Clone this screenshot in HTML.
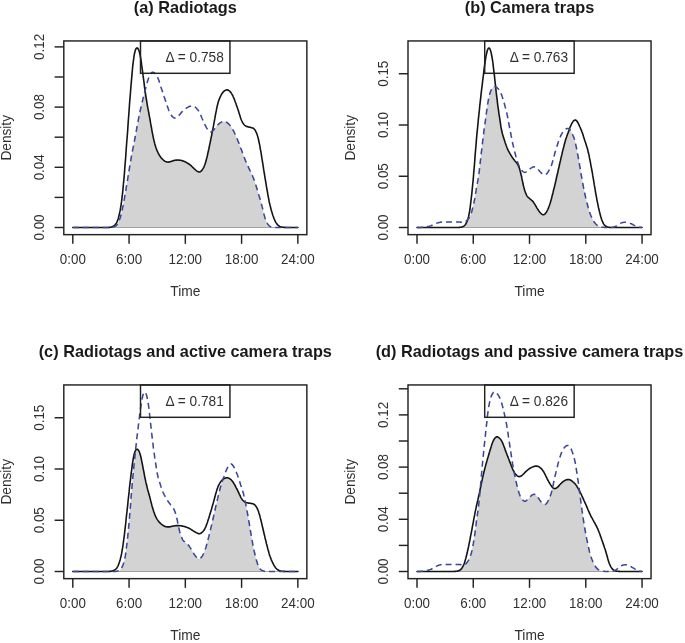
<!DOCTYPE html>
<html><head><meta charset="utf-8"><title>Activity overlap</title>
<style>
html,body{margin:0;padding:0;background:#fff;}
body{width:685px;height:643px;overflow:hidden;}
svg{display:block;}
.t{font-family:"Liberation Sans",sans-serif;font-size:13.4px;fill:#303030;}
.h{font-family:"Liberation Sans",sans-serif;font-size:16.3px;font-weight:bold;fill:#1a1a1a;}
</style></head><body>
<svg width="685" height="643" viewBox="0 0 685 643">
<rect width="685" height="643" fill="#fff"/>
<g><path d="M72.8,227.5 L73.3,227.5 L73.7,227.5 L74.2,227.5 L74.7,227.5 L75.1,227.5 L75.6,227.5 L76.1,227.5 L76.6,227.5 L77.0,227.5 L77.5,227.5 L78.0,227.5 L78.4,227.5 L78.9,227.5 L79.4,227.5 L79.8,227.5 L80.3,227.5 L80.8,227.5 L81.2,227.5 L81.7,227.5 L82.2,227.5 L82.6,227.5 L83.1,227.5 L83.6,227.5 L84.1,227.5 L84.5,227.5 L85.0,227.5 L85.5,227.5 L85.9,227.5 L86.4,227.5 L86.9,227.5 L87.3,227.5 L87.8,227.5 L88.3,227.5 L88.7,227.5 L89.2,227.5 L89.7,227.5 L90.1,227.5 L90.6,227.5 L91.1,227.5 L91.6,227.5 L92.0,227.5 L92.5,227.5 L93.0,227.5 L93.4,227.5 L93.9,227.5 L94.4,227.5 L94.8,227.5 L95.3,227.5 L95.8,227.5 L96.2,227.5 L96.7,227.5 L97.2,227.5 L97.6,227.5 L98.1,227.5 L98.6,227.5 L99.1,227.5 L99.5,227.5 L100.0,227.5 L100.5,227.5 L100.9,227.5 L101.4,227.5 L101.9,227.5 L102.3,227.5 L102.8,227.5 L103.3,227.5 L103.7,227.5 L104.2,227.5 L104.7,227.5 L105.2,227.5 L105.6,227.5 L106.1,227.5 L106.6,227.5 L107.0,227.5 L107.5,227.5 L108.0,227.5 L108.4,227.5 L108.9,227.5 L109.4,227.5 L109.8,227.4 L110.3,227.4 L110.8,227.4 L111.2,227.3 L111.7,227.3 L112.2,227.2 L112.7,227.1 L113.1,227.0 L113.6,226.9 L114.1,226.8 L114.5,226.6 L115.0,226.4 L115.5,226.1 L115.9,225.8 L116.4,225.4 L116.9,224.8 L117.3,224.2 L117.8,223.4 L118.3,222.5 L118.7,221.5 L119.2,220.4 L119.7,219.2 L120.2,217.7 L120.6,216.2 L121.1,214.4 L121.6,212.5 L122.0,210.4 L122.5,208.3 L123.0,206.0 L123.4,203.6 L123.9,201.2 L124.4,198.6 L124.8,196.0 L125.3,193.3 L125.8,190.6 L126.2,187.7 L126.7,184.9 L127.2,182.0 L127.7,179.1 L128.1,176.2 L128.6,173.4 L129.1,170.5 L129.5,167.6 L130.0,164.8 L130.5,162.0 L130.9,159.3 L131.4,156.7 L131.9,154.1 L132.3,151.6 L132.8,149.1 L133.3,146.7 L133.8,144.4 L134.2,142.0 L134.7,139.5 L135.2,137.0 L135.6,134.5 L136.1,131.8 L136.6,129.2 L137.0,126.6 L137.5,124.1 L138.0,121.7 L138.4,119.3 L138.9,116.9 L139.4,114.6 L139.8,112.4 L140.3,110.1 L140.8,108.0 L141.3,105.9 L141.7,103.9 L142.2,102.0 L142.7,100.1 L143.1,98.2 L143.6,96.4 L144.1,94.6 L144.5,92.8 L145.0,91.0 L145.5,93.6 L145.9,96.6 L146.4,99.5 L146.9,102.4 L147.3,105.1 L147.8,107.8 L148.3,110.4 L148.8,112.9 L149.2,115.3 L149.7,117.9 L150.2,120.5 L150.6,123.2 L151.1,125.9 L151.6,128.5 L152.0,131.1 L152.5,133.6 L153.0,135.9 L153.4,138.1 L153.9,140.2 L154.4,142.1 L154.8,143.9 L155.3,145.6 L155.8,147.2 L156.3,148.5 L156.7,149.8 L157.2,150.9 L157.7,152.0 L158.1,152.9 L158.6,153.8 L159.1,154.7 L159.5,155.5 L160.0,156.2 L160.5,156.9 L160.9,157.5 L161.4,158.1 L161.9,158.6 L162.4,159.1 L162.8,159.6 L163.3,160.0 L163.8,160.4 L164.2,160.8 L164.7,161.1 L165.2,161.4 L165.6,161.6 L166.1,161.8 L166.6,161.9 L167.0,162.0 L167.5,162.0 L168.0,162.1 L168.4,162.1 L168.9,162.0 L169.4,161.9 L169.9,161.8 L170.3,161.7 L170.8,161.5 L171.3,161.4 L171.7,161.2 L172.2,161.1 L172.7,160.9 L173.1,160.8 L173.6,160.6 L174.1,160.5 L174.5,160.4 L175.0,160.3 L175.5,160.2 L175.9,160.1 L176.4,160.1 L176.9,160.1 L177.4,160.0 L177.8,160.0 L178.3,160.0 L178.8,160.1 L179.2,160.1 L179.7,160.2 L180.2,160.3 L180.6,160.3 L181.1,160.4 L181.6,160.5 L182.0,160.7 L182.5,160.8 L183.0,161.0 L183.4,161.1 L183.9,161.3 L184.4,161.5 L184.9,161.7 L185.3,161.9 L185.8,162.1 L186.3,162.4 L186.7,162.7 L187.2,162.9 L187.7,163.2 L188.1,163.5 L188.6,163.8 L189.1,164.1 L189.5,164.5 L190.0,164.8 L190.5,165.2 L191.0,165.6 L191.4,166.1 L191.9,166.5 L192.4,167.0 L192.8,167.4 L193.3,167.9 L193.8,168.3 L194.2,168.8 L194.7,169.2 L195.2,169.6 L195.6,170.0 L196.1,170.4 L196.6,170.8 L197.0,171.1 L197.5,171.4 L198.0,171.6 L198.5,171.8 L198.9,172.0 L199.4,172.0 L199.9,171.9 L200.3,171.7 L200.8,171.4 L201.3,170.9 L201.7,170.4 L202.2,169.8 L202.7,169.1 L203.1,168.4 L203.6,167.6 L204.1,166.6 L204.5,165.5 L205.0,164.2 L205.5,162.7 L206.0,161.1 L206.4,159.3 L206.9,157.5 L207.4,155.5 L207.8,153.4 L208.3,151.3 L208.8,149.2 L209.2,147.0 L209.7,144.7 L210.2,142.5 L210.6,140.2 L211.1,137.9 L211.6,135.5 L212.0,133.1 L212.5,131.0 L213.0,130.6 L213.5,130.2 L213.9,129.6 L214.4,129.0 L214.9,128.4 L215.3,127.8 L215.8,127.2 L216.3,126.6 L216.7,126.0 L217.2,125.5 L217.7,125.0 L218.1,124.5 L218.6,124.1 L219.1,123.6 L219.6,123.3 L220.0,122.9 L220.5,122.6 L221.0,122.3 L221.4,122.0 L221.9,121.8 L222.4,121.7 L222.8,121.6 L223.3,121.5 L223.8,121.4 L224.2,121.4 L224.7,121.5 L225.2,121.6 L225.6,121.8 L226.1,122.0 L226.6,122.3 L227.1,122.6 L227.5,123.0 L228.0,123.3 L228.5,123.8 L228.9,124.2 L229.4,124.7 L229.9,125.2 L230.3,125.7 L230.8,126.3 L231.3,126.9 L231.7,127.6 L232.2,128.4 L232.7,129.2 L233.1,130.1 L233.6,131.0 L234.1,132.0 L234.6,133.0 L235.0,134.0 L235.5,135.0 L236.0,136.1 L236.4,137.1 L236.9,138.3 L237.4,139.4 L237.8,140.6 L238.3,141.7 L238.8,142.9 L239.2,144.1 L239.7,145.3 L240.2,146.6 L240.6,147.8 L241.1,149.0 L241.6,150.2 L242.1,151.5 L242.5,152.8 L243.0,154.0 L243.5,155.3 L243.9,156.6 L244.4,157.8 L244.9,159.1 L245.3,160.3 L245.8,161.4 L246.3,162.5 L246.7,163.6 L247.2,164.6 L247.7,165.6 L248.2,166.6 L248.6,167.6 L249.1,168.6 L249.6,169.6 L250.0,170.5 L250.5,171.5 L251.0,172.5 L251.4,173.5 L251.9,174.5 L252.4,175.5 L252.8,176.6 L253.3,177.8 L253.8,179.0 L254.2,180.3 L254.7,181.6 L255.2,183.1 L255.7,184.5 L256.1,186.1 L256.6,187.6 L257.1,189.2 L257.5,190.7 L258.0,192.2 L258.5,193.7 L258.9,195.3 L259.4,196.8 L259.9,198.4 L260.3,200.0 L260.8,201.7 L261.3,203.4 L261.7,205.1 L262.2,206.9 L262.7,208.9 L263.2,210.9 L263.6,212.8 L264.1,214.7 L264.6,216.4 L265.0,217.9 L265.5,219.3 L266.0,220.5 L266.4,221.6 L266.9,222.5 L267.4,223.4 L267.8,224.1 L268.3,224.8 L268.8,225.3 L269.2,225.8 L269.7,226.1 L270.2,226.4 L270.7,226.6 L271.1,226.8 L271.6,226.9 L272.1,227.0 L272.5,227.1 L273.0,227.2 L273.5,227.3 L273.9,227.3 L274.4,227.4 L274.9,227.4 L275.3,227.4 L275.8,227.5 L276.3,227.5 L276.8,227.5 L277.2,227.5 L277.7,227.5 L278.2,227.5 L278.6,227.5 L279.1,227.5 L279.6,227.5 L280.0,227.5 L280.5,227.5 L281.0,227.5 L281.4,227.5 L281.9,227.5 L282.4,227.5 L282.8,227.5 L283.3,227.5 L283.8,227.5 L284.3,227.5 L284.7,227.5 L285.2,227.5 L285.7,227.5 L286.1,227.5 L286.6,227.5 L287.1,227.5 L287.5,227.5 L288.0,227.5 L288.5,227.5 L288.9,227.5 L289.4,227.5 L289.9,227.5 L290.3,227.5 L290.8,227.5 L291.3,227.5 L291.8,227.5 L292.2,227.5 L292.7,227.5 L293.2,227.5 L293.6,227.5 L294.1,227.5 L294.6,227.5 L295.0,227.5 L295.5,227.5 L296.0,227.5 L296.4,227.5 L296.9,227.5 L297.4,227.5 L297.9,227.5 L297.85,227.50 L72.80,227.50 Z" fill="#d3d3d3" stroke="none"/>
<line x1="72.80" y1="227.50" x2="297.85" y2="227.50" stroke="#707070" stroke-width="0.6"/>
<path d="M72.8,227.5 L73.3,227.5 L73.7,227.5 L74.2,227.5 L74.7,227.5 L75.1,227.5 L75.6,227.5 L76.1,227.5 L76.6,227.5 L77.0,227.5 L77.5,227.5 L78.0,227.5 L78.4,227.5 L78.9,227.5 L79.4,227.5 L79.8,227.5 L80.3,227.5 L80.8,227.5 L81.2,227.5 L81.7,227.5 L82.2,227.5 L82.6,227.5 L83.1,227.5 L83.6,227.5 L84.1,227.5 L84.5,227.5 L85.0,227.5 L85.5,227.5 L85.9,227.5 L86.4,227.5 L86.9,227.5 L87.3,227.5 L87.8,227.5 L88.3,227.5 L88.7,227.5 L89.2,227.5 L89.7,227.5 L90.1,227.5 L90.6,227.5 L91.1,227.5 L91.6,227.5 L92.0,227.5 L92.5,227.5 L93.0,227.5 L93.4,227.5 L93.9,227.5 L94.4,227.5 L94.8,227.5 L95.3,227.5 L95.8,227.5 L96.2,227.5 L96.7,227.5 L97.2,227.5 L97.6,227.5 L98.1,227.5 L98.6,227.5 L99.1,227.5 L99.5,227.5 L100.0,227.5 L100.5,227.5 L100.9,227.5 L101.4,227.5 L101.9,227.5 L102.3,227.5 L102.8,227.5 L103.3,227.5 L103.7,227.5 L104.2,227.5 L104.7,227.5 L105.2,227.5 L105.6,227.5 L106.1,227.5 L106.6,227.5 L107.0,227.5 L107.5,227.5 L108.0,227.5 L108.4,227.5 L108.9,227.4 L109.4,227.4 L109.8,227.4 L110.3,227.3 L110.8,227.2 L111.2,227.1 L111.7,226.9 L112.2,226.7 L112.7,226.5 L113.1,226.3 L113.6,226.0 L114.1,225.6 L114.5,225.3 L115.0,224.9 L115.5,224.4 L115.9,223.8 L116.4,223.1 L116.9,222.2 L117.3,221.2 L117.8,219.9 L118.3,218.4 L118.7,216.7 L119.2,214.7 L119.7,212.6 L120.2,210.2 L120.6,207.6 L121.1,204.7 L121.6,201.4 L122.0,197.7 L122.5,193.6 L123.0,189.1 L123.4,184.3 L123.9,179.1 L124.4,173.7 L124.8,167.9 L125.3,161.9 L125.8,155.6 L126.2,149.2 L126.7,142.8 L127.2,136.5 L127.7,130.1 L128.1,123.6 L128.6,117.0 L129.1,110.6 L129.5,104.2 L130.0,98.1 L130.5,92.3 L130.9,86.6 L131.4,81.1 L131.9,75.6 L132.3,70.5 L132.8,65.7 L133.3,61.5 L133.8,58.0 L134.2,55.0 L134.7,52.7 L135.2,50.9 L135.6,49.5 L136.1,48.6 L136.6,48.1 L137.0,47.9 L137.5,48.1 L138.0,48.6 L138.4,49.4 L138.9,50.5 L139.4,52.0 L139.8,53.8 L140.3,56.1 L140.8,58.9 L141.3,62.0 L141.7,65.4 L142.2,68.9 L142.7,72.4 L143.1,75.9 L143.6,79.5 L144.1,83.1 L144.5,86.8 L145.0,90.3 L145.5,93.6 L145.9,96.6 L146.4,99.5 L146.9,102.4 L147.3,105.1 L147.8,107.8 L148.3,110.4 L148.8,112.9 L149.2,115.3 L149.7,117.9 L150.2,120.5 L150.6,123.2 L151.1,125.9 L151.6,128.5 L152.0,131.1 L152.5,133.6 L153.0,135.9 L153.4,138.1 L153.9,140.2 L154.4,142.1 L154.8,143.9 L155.3,145.6 L155.8,147.2 L156.3,148.5 L156.7,149.8 L157.2,150.9 L157.7,152.0 L158.1,152.9 L158.6,153.8 L159.1,154.7 L159.5,155.5 L160.0,156.2 L160.5,156.9 L160.9,157.5 L161.4,158.1 L161.9,158.6 L162.4,159.1 L162.8,159.6 L163.3,160.0 L163.8,160.4 L164.2,160.8 L164.7,161.1 L165.2,161.4 L165.6,161.6 L166.1,161.8 L166.6,161.9 L167.0,162.0 L167.5,162.0 L168.0,162.1 L168.4,162.1 L168.9,162.0 L169.4,161.9 L169.9,161.8 L170.3,161.7 L170.8,161.5 L171.3,161.4 L171.7,161.2 L172.2,161.1 L172.7,160.9 L173.1,160.8 L173.6,160.6 L174.1,160.5 L174.5,160.4 L175.0,160.3 L175.5,160.2 L175.9,160.1 L176.4,160.1 L176.9,160.1 L177.4,160.0 L177.8,160.0 L178.3,160.0 L178.8,160.1 L179.2,160.1 L179.7,160.2 L180.2,160.3 L180.6,160.3 L181.1,160.4 L181.6,160.5 L182.0,160.7 L182.5,160.8 L183.0,161.0 L183.4,161.1 L183.9,161.3 L184.4,161.5 L184.9,161.7 L185.3,161.9 L185.8,162.1 L186.3,162.4 L186.7,162.7 L187.2,162.9 L187.7,163.2 L188.1,163.5 L188.6,163.8 L189.1,164.1 L189.5,164.5 L190.0,164.8 L190.5,165.2 L191.0,165.6 L191.4,166.1 L191.9,166.5 L192.4,167.0 L192.8,167.4 L193.3,167.9 L193.8,168.3 L194.2,168.8 L194.7,169.2 L195.2,169.6 L195.6,170.0 L196.1,170.4 L196.6,170.8 L197.0,171.1 L197.5,171.4 L198.0,171.6 L198.5,171.8 L198.9,172.0 L199.4,172.0 L199.9,171.9 L200.3,171.7 L200.8,171.4 L201.3,170.9 L201.7,170.4 L202.2,169.8 L202.7,169.1 L203.1,168.4 L203.6,167.6 L204.1,166.6 L204.5,165.5 L205.0,164.2 L205.5,162.7 L206.0,161.1 L206.4,159.3 L206.9,157.5 L207.4,155.5 L207.8,153.4 L208.3,151.3 L208.8,149.2 L209.2,147.0 L209.7,144.7 L210.2,142.5 L210.6,140.2 L211.1,137.9 L211.6,135.5 L212.0,133.1 L212.5,130.7 L213.0,128.3 L213.5,125.9 L213.9,123.4 L214.4,120.8 L214.9,118.2 L215.3,115.7 L215.8,113.1 L216.3,110.7 L216.7,108.4 L217.2,106.2 L217.7,104.3 L218.1,102.5 L218.6,101.0 L219.1,99.6 L219.6,98.4 L220.0,97.3 L220.5,96.3 L221.0,95.4 L221.4,94.5 L221.9,93.7 L222.4,93.1 L222.8,92.4 L223.3,91.9 L223.8,91.4 L224.2,91.0 L224.7,90.7 L225.2,90.4 L225.6,90.2 L226.1,90.0 L226.6,89.9 L227.1,89.9 L227.5,90.0 L228.0,90.1 L228.5,90.3 L228.9,90.6 L229.4,91.0 L229.9,91.4 L230.3,91.9 L230.8,92.4 L231.3,93.1 L231.7,93.8 L232.2,94.6 L232.7,95.5 L233.1,96.5 L233.6,97.6 L234.1,98.7 L234.6,100.0 L235.0,101.2 L235.5,102.5 L236.0,103.8 L236.4,105.1 L236.9,106.4 L237.4,107.8 L237.8,109.1 L238.3,110.6 L238.8,112.1 L239.2,113.6 L239.7,115.1 L240.2,116.6 L240.6,118.0 L241.1,119.3 L241.6,120.5 L242.1,121.5 L242.5,122.4 L243.0,123.2 L243.5,123.9 L243.9,124.5 L244.4,125.0 L244.9,125.4 L245.3,125.7 L245.8,126.0 L246.3,126.3 L246.7,126.5 L247.2,126.6 L247.7,126.8 L248.2,126.9 L248.6,127.0 L249.1,127.1 L249.6,127.2 L250.0,127.3 L250.5,127.4 L251.0,127.5 L251.4,127.6 L251.9,127.7 L252.4,127.9 L252.8,128.1 L253.3,128.3 L253.8,128.6 L254.2,129.1 L254.7,129.6 L255.2,130.3 L255.7,131.1 L256.1,132.1 L256.6,133.2 L257.1,134.5 L257.5,135.9 L258.0,137.6 L258.5,139.5 L258.9,141.5 L259.4,143.8 L259.9,146.2 L260.3,148.8 L260.8,151.4 L261.3,154.2 L261.7,157.1 L262.2,160.1 L262.7,163.1 L263.2,166.2 L263.6,169.2 L264.1,172.1 L264.6,175.0 L265.0,177.8 L265.5,180.7 L266.0,183.5 L266.4,186.3 L266.9,189.0 L267.4,191.7 L267.8,194.3 L268.3,196.9 L268.8,199.3 L269.2,201.7 L269.7,203.9 L270.2,205.9 L270.7,207.8 L271.1,209.5 L271.6,211.2 L272.1,212.7 L272.5,214.2 L273.0,215.7 L273.5,217.0 L273.9,218.3 L274.4,219.4 L274.9,220.5 L275.3,221.5 L275.8,222.3 L276.3,223.1 L276.8,223.8 L277.2,224.4 L277.7,224.9 L278.2,225.3 L278.6,225.7 L279.1,226.0 L279.6,226.3 L280.0,226.5 L280.5,226.7 L281.0,226.9 L281.4,227.0 L281.9,227.1 L282.4,227.2 L282.8,227.3 L283.3,227.3 L283.8,227.4 L284.3,227.4 L284.7,227.4 L285.2,227.4 L285.7,227.5 L286.1,227.5 L286.6,227.5 L287.1,227.5 L287.5,227.5 L288.0,227.5 L288.5,227.5 L288.9,227.5 L289.4,227.5 L289.9,227.5 L290.3,227.5 L290.8,227.5 L291.3,227.5 L291.8,227.5 L292.2,227.5 L292.7,227.5 L293.2,227.5 L293.6,227.5 L294.1,227.5 L294.6,227.5 L295.0,227.5 L295.5,227.5 L296.0,227.5 L296.4,227.5 L296.9,227.5 L297.4,227.5 L297.9,227.5" fill="none" stroke="#141414" stroke-width="1.6" stroke-linejoin="round" stroke-linecap="round"/>
<path d="M72.8,227.5 L73.3,227.5 L73.7,227.5 L74.2,227.5 L74.7,227.5 L75.1,227.5 L75.6,227.5 L76.1,227.5 L76.6,227.5 L77.0,227.5 L77.5,227.5 L78.0,227.5 L78.4,227.5 L78.9,227.5 L79.4,227.5 L79.8,227.5 L80.3,227.5 L80.8,227.5 L81.2,227.5 L81.7,227.5 L82.2,227.5 L82.6,227.5 L83.1,227.5 L83.6,227.5 L84.1,227.5 L84.5,227.5 L85.0,227.5 L85.5,227.5 L85.9,227.5 L86.4,227.5 L86.9,227.5 L87.3,227.5 L87.8,227.5 L88.3,227.5 L88.7,227.5 L89.2,227.5 L89.7,227.5 L90.1,227.5 L90.6,227.5 L91.1,227.5 L91.6,227.5 L92.0,227.5 L92.5,227.5 L93.0,227.5 L93.4,227.5 L93.9,227.5 L94.4,227.5 L94.8,227.5 L95.3,227.5 L95.8,227.5 L96.2,227.5 L96.7,227.5 L97.2,227.5 L97.6,227.5 L98.1,227.5 L98.6,227.5 L99.1,227.5 L99.5,227.5 L100.0,227.5 L100.5,227.5 L100.9,227.5 L101.4,227.5 L101.9,227.5 L102.3,227.5 L102.8,227.5 L103.3,227.5 L103.7,227.5 L104.2,227.5 L104.7,227.5 L105.2,227.5 L105.6,227.5 L106.1,227.5 L106.6,227.5 L107.0,227.5 L107.5,227.5 L108.0,227.5 L108.4,227.5 L108.9,227.5 L109.4,227.5 L109.8,227.4 L110.3,227.4 L110.8,227.4 L111.2,227.3 L111.7,227.3 L112.2,227.2 L112.7,227.1 L113.1,227.0 L113.6,226.9 L114.1,226.8 L114.5,226.6 L115.0,226.4 L115.5,226.1 L115.9,225.8 L116.4,225.4 L116.9,224.8 L117.3,224.2 L117.8,223.4 L118.3,222.5 L118.7,221.5 L119.2,220.4 L119.7,219.2 L120.2,217.7 L120.6,216.2 L121.1,214.4 L121.6,212.5 L122.0,210.4 L122.5,208.3 L123.0,206.0 L123.4,203.6 L123.9,201.2 L124.4,198.6 L124.8,196.0 L125.3,193.3 L125.8,190.6 L126.2,187.7 L126.7,184.9 L127.2,182.0 L127.7,179.1 L128.1,176.2 L128.6,173.4 L129.1,170.5 L129.5,167.6 L130.0,164.8 L130.5,162.0 L130.9,159.3 L131.4,156.7 L131.9,154.1 L132.3,151.6 L132.8,149.1 L133.3,146.7 L133.8,144.4 L134.2,142.0 L134.7,139.5 L135.2,137.0 L135.6,134.5 L136.1,131.8 L136.6,129.2 L137.0,126.6 L137.5,124.1 L138.0,121.7 L138.4,119.3 L138.9,116.9 L139.4,114.6 L139.8,112.4 L140.3,110.1 L140.8,108.0 L141.3,105.9 L141.7,103.9 L142.2,102.0 L142.7,100.1 L143.1,98.2 L143.6,96.4 L144.1,94.6 L144.5,92.8 L145.0,91.0 L145.5,89.2 L145.9,87.4 L146.4,85.6 L146.9,83.8 L147.3,82.1 L147.8,80.5 L148.3,79.0 L148.8,77.6 L149.2,76.4 L149.7,75.4 L150.2,74.5 L150.6,73.8 L151.1,73.2 L151.6,72.7 L152.0,72.4 L152.5,72.2 L153.0,72.2 L153.4,72.3 L153.9,72.6 L154.4,72.9 L154.8,73.3 L155.3,73.8 L155.8,74.3 L156.3,74.9 L156.7,75.6 L157.2,76.5 L157.7,77.5 L158.1,78.5 L158.6,79.7 L159.1,81.0 L159.5,82.4 L160.0,83.9 L160.5,85.4 L160.9,86.9 L161.4,88.4 L161.9,89.9 L162.4,91.3 L162.8,92.7 L163.3,94.1 L163.8,95.5 L164.2,96.9 L164.7,98.3 L165.2,99.7 L165.6,101.1 L166.1,102.5 L166.6,103.9 L167.0,105.3 L167.5,106.7 L168.0,108.1 L168.4,109.3 L168.9,110.5 L169.4,111.6 L169.9,112.6 L170.3,113.5 L170.8,114.4 L171.3,115.1 L171.7,115.8 L172.2,116.4 L172.7,116.9 L173.1,117.3 L173.6,117.6 L174.1,117.9 L174.5,118.0 L175.0,118.0 L175.5,118.0 L175.9,117.9 L176.4,117.7 L176.9,117.4 L177.4,117.1 L177.8,116.6 L178.3,116.1 L178.8,115.6 L179.2,115.1 L179.7,114.6 L180.2,114.0 L180.6,113.4 L181.1,112.9 L181.6,112.4 L182.0,111.8 L182.5,111.4 L183.0,110.9 L183.4,110.5 L183.9,110.0 L184.4,109.6 L184.9,109.2 L185.3,108.9 L185.8,108.5 L186.3,108.2 L186.7,107.9 L187.2,107.6 L187.7,107.3 L188.1,107.0 L188.6,106.8 L189.1,106.6 L189.5,106.5 L190.0,106.3 L190.5,106.2 L191.0,106.1 L191.4,106.0 L191.9,105.9 L192.4,105.9 L192.8,105.9 L193.3,106.1 L193.8,106.2 L194.2,106.5 L194.7,106.8 L195.2,107.1 L195.6,107.5 L196.1,107.9 L196.6,108.3 L197.0,108.9 L197.5,109.5 L198.0,110.1 L198.5,110.8 L198.9,111.6 L199.4,112.4 L199.9,113.4 L200.3,114.3 L200.8,115.4 L201.3,116.4 L201.7,117.5 L202.2,118.7 L202.7,119.8 L203.1,120.9 L203.6,122.0 L204.1,123.0 L204.5,124.0 L205.0,124.9 L205.5,125.8 L206.0,126.7 L206.4,127.6 L206.9,128.4 L207.4,129.2 L207.8,129.9 L208.3,130.5 L208.8,130.9 L209.2,131.3 L209.7,131.6 L210.2,131.8 L210.6,131.9 L211.1,131.8 L211.6,131.7 L212.0,131.4 L212.5,131.0 L213.0,130.6 L213.5,130.2 L213.9,129.6 L214.4,129.0 L214.9,128.4 L215.3,127.8 L215.8,127.2 L216.3,126.6 L216.7,126.0 L217.2,125.5 L217.7,125.0 L218.1,124.5 L218.6,124.1 L219.1,123.6 L219.6,123.3 L220.0,122.9 L220.5,122.6 L221.0,122.3 L221.4,122.0 L221.9,121.8 L222.4,121.7 L222.8,121.6 L223.3,121.5 L223.8,121.4 L224.2,121.4 L224.7,121.5 L225.2,121.6 L225.6,121.8 L226.1,122.0 L226.6,122.3 L227.1,122.6 L227.5,123.0 L228.0,123.3 L228.5,123.8 L228.9,124.2 L229.4,124.7 L229.9,125.2 L230.3,125.7 L230.8,126.3 L231.3,126.9 L231.7,127.6 L232.2,128.4 L232.7,129.2 L233.1,130.1 L233.6,131.0 L234.1,132.0 L234.6,133.0 L235.0,134.0 L235.5,135.0 L236.0,136.1 L236.4,137.1 L236.9,138.3 L237.4,139.4 L237.8,140.6 L238.3,141.7 L238.8,142.9 L239.2,144.1 L239.7,145.3 L240.2,146.6 L240.6,147.8 L241.1,149.0 L241.6,150.2 L242.1,151.5 L242.5,152.8 L243.0,154.0 L243.5,155.3 L243.9,156.6 L244.4,157.8 L244.9,159.1 L245.3,160.3 L245.8,161.4 L246.3,162.5 L246.7,163.6 L247.2,164.6 L247.7,165.6 L248.2,166.6 L248.6,167.6 L249.1,168.6 L249.6,169.6 L250.0,170.5 L250.5,171.5 L251.0,172.5 L251.4,173.5 L251.9,174.5 L252.4,175.5 L252.8,176.6 L253.3,177.8 L253.8,179.0 L254.2,180.3 L254.7,181.6 L255.2,183.1 L255.7,184.5 L256.1,186.1 L256.6,187.6 L257.1,189.2 L257.5,190.7 L258.0,192.2 L258.5,193.7 L258.9,195.3 L259.4,196.8 L259.9,198.4 L260.3,200.0 L260.8,201.7 L261.3,203.4 L261.7,205.1 L262.2,206.9 L262.7,208.9 L263.2,210.9 L263.6,212.8 L264.1,214.7 L264.6,216.4 L265.0,217.9 L265.5,219.3 L266.0,220.5 L266.4,221.6 L266.9,222.5 L267.4,223.4 L267.8,224.1 L268.3,224.8 L268.8,225.3 L269.2,225.8 L269.7,226.1 L270.2,226.4 L270.7,226.6 L271.1,226.8 L271.6,226.9 L272.1,227.0 L272.5,227.1 L273.0,227.2 L273.5,227.3 L273.9,227.3 L274.4,227.4 L274.9,227.4 L275.3,227.4 L275.8,227.5 L276.3,227.5 L276.8,227.5 L277.2,227.5 L277.7,227.5 L278.2,227.5 L278.6,227.5 L279.1,227.5 L279.6,227.5 L280.0,227.5 L280.5,227.5 L281.0,227.5 L281.4,227.5 L281.9,227.5 L282.4,227.5 L282.8,227.5 L283.3,227.5 L283.8,227.5 L284.3,227.5 L284.7,227.5 L285.2,227.5 L285.7,227.5 L286.1,227.5 L286.6,227.5 L287.1,227.5 L287.5,227.5 L288.0,227.5 L288.5,227.5 L288.9,227.5 L289.4,227.5 L289.9,227.5 L290.3,227.5 L290.8,227.5 L291.3,227.5 L291.8,227.5 L292.2,227.5 L292.7,227.5 L293.2,227.5 L293.6,227.5 L294.1,227.5 L294.6,227.5 L295.0,227.5 L295.5,227.5 L296.0,227.5 L296.4,227.5 L296.9,227.5 L297.4,227.5 L297.9,227.5" fill="none" stroke="#3b4699" stroke-width="1.55" stroke-dasharray="6 4" stroke-linejoin="round" stroke-linecap="butt"/>
<rect x="63.80" y="40.95" width="243.05" height="193.70" fill="none" stroke="#222222" stroke-width="1.45"/>
<line x1="72.80" y1="234.65" x2="72.80" y2="243.85" stroke="#222222" stroke-width="1.45"/>
<text transform="translate(72.80,264.20) scale(1,1.07)" text-anchor="middle" class="t">0:00</text>
<line x1="129.06" y1="234.65" x2="129.06" y2="243.85" stroke="#222222" stroke-width="1.45"/>
<text transform="translate(129.06,264.20) scale(1,1.07)" text-anchor="middle" class="t">6:00</text>
<line x1="185.32" y1="234.65" x2="185.32" y2="243.85" stroke="#222222" stroke-width="1.45"/>
<text transform="translate(185.32,264.20) scale(1,1.07)" text-anchor="middle" class="t">12:00</text>
<line x1="241.59" y1="234.65" x2="241.59" y2="243.85" stroke="#222222" stroke-width="1.45"/>
<text transform="translate(241.59,264.20) scale(1,1.07)" text-anchor="middle" class="t">18:00</text>
<line x1="297.85" y1="234.65" x2="297.85" y2="243.85" stroke="#222222" stroke-width="1.45"/>
<text transform="translate(297.85,264.20) scale(1,1.07)" text-anchor="middle" class="t">24:00</text>
<line x1="54.60" y1="227.50" x2="63.80" y2="227.50" stroke="#222222" stroke-width="1.45"/>
<line x1="54.60" y1="167.30" x2="63.80" y2="167.30" stroke="#222222" stroke-width="1.45"/>
<line x1="54.60" y1="107.10" x2="63.80" y2="107.10" stroke="#222222" stroke-width="1.45"/>
<line x1="54.60" y1="46.90" x2="63.80" y2="46.90" stroke="#222222" stroke-width="1.45"/>
<line x1="54.60" y1="197.40" x2="63.80" y2="197.40" stroke="#222222" stroke-width="1.45"/>
<line x1="54.60" y1="137.20" x2="63.80" y2="137.20" stroke="#222222" stroke-width="1.45"/>
<line x1="54.60" y1="77.00" x2="63.80" y2="77.00" stroke="#222222" stroke-width="1.45"/>
<text transform="translate(44.20,227.50) rotate(-90) scale(1,1.07)" text-anchor="middle" class="t">0.00</text>
<text transform="translate(44.20,167.30) rotate(-90) scale(1,1.07)" text-anchor="middle" class="t">0.04</text>
<text transform="translate(44.20,107.10) rotate(-90) scale(1,1.07)" text-anchor="middle" class="t">0.08</text>
<text transform="translate(44.20,46.90) rotate(-90) scale(1,1.07)" text-anchor="middle" class="t">0.12</text>
<text transform="translate(185.30,296.30) scale(1,1.07)" text-anchor="middle" class="t" style="font-size:13.8px">Time</text>
<text transform="translate(10.90,137.80) rotate(-90) scale(1,1.07)" text-anchor="middle" class="t" style="font-size:13.7px">Density</text>
<text x="185.30" y="13.30" text-anchor="middle" class="h">(a) Radiotags</text>
<rect x="140.50" y="40.95" width="89.45" height="32.35" fill="none" stroke="#222222" stroke-width="1.45"/>
<text transform="translate(165.60,62.30) scale(1,1.07)" class="t" style="font-size:13.7px">Δ = 0.758</text></g>
<g><path d="M417.0,227.5 L417.5,227.5 L417.9,227.5 L418.4,227.5 L418.9,227.5 L419.3,227.5 L419.8,227.5 L420.3,227.5 L420.8,227.5 L421.2,227.5 L421.7,227.5 L422.2,227.5 L422.6,227.5 L423.1,227.5 L423.6,227.5 L424.0,227.5 L424.5,227.5 L425.0,227.5 L425.4,227.5 L425.9,227.5 L426.4,227.5 L426.8,227.5 L427.3,227.5 L427.8,227.5 L428.3,227.5 L428.7,227.5 L429.2,227.5 L429.7,227.5 L430.1,227.5 L430.6,227.5 L431.1,227.5 L431.5,227.5 L432.0,227.5 L432.5,227.5 L432.9,227.5 L433.4,227.5 L433.9,227.5 L434.3,227.5 L434.8,227.5 L435.3,227.5 L435.8,227.5 L436.2,227.5 L436.7,227.5 L437.2,227.5 L437.6,227.5 L438.1,227.5 L438.6,227.5 L439.0,227.5 L439.5,227.5 L440.0,227.5 L440.4,227.5 L440.9,227.5 L441.4,227.5 L441.8,227.5 L442.3,227.5 L442.8,227.5 L443.3,227.5 L443.7,227.5 L444.2,227.5 L444.7,227.5 L445.1,227.5 L445.6,227.5 L446.1,227.5 L446.5,227.5 L447.0,227.5 L447.5,227.5 L447.9,227.5 L448.4,227.5 L448.9,227.5 L449.4,227.5 L449.8,227.5 L450.3,227.5 L450.8,227.5 L451.2,227.5 L451.7,227.5 L452.2,227.5 L452.6,227.5 L453.1,227.5 L453.6,227.5 L454.0,227.5 L454.5,227.5 L455.0,227.5 L455.4,227.5 L455.9,227.5 L456.4,227.5 L456.9,227.5 L457.3,227.5 L457.8,227.5 L458.3,227.5 L458.7,227.5 L459.2,227.4 L459.7,227.4 L460.1,227.3 L460.6,227.3 L461.1,227.2 L461.5,227.1 L462.0,227.0 L462.5,226.8 L462.9,226.6 L463.4,226.4 L463.9,226.1 L464.4,225.7 L464.8,225.3 L465.3,224.7 L465.8,224.0 L466.2,223.2 L466.7,222.2 L467.2,221.1 L467.6,219.8 L468.1,219.2 L468.6,218.6 L469.0,218.0 L469.5,217.2 L470.0,216.4 L470.4,215.4 L470.9,214.2 L471.4,212.8 L471.9,211.2 L472.3,209.4 L472.8,207.6 L473.3,205.7 L473.7,203.6 L474.2,201.3 L474.7,198.9 L475.1,196.2 L475.6,193.3 L476.1,190.4 L476.5,187.5 L477.0,184.8 L477.5,182.3 L478.0,179.7 L478.4,176.8 L478.9,173.5 L479.4,169.9 L479.8,165.9 L480.3,161.9 L480.8,157.7 L481.2,153.6 L481.7,149.6 L482.2,145.6 L482.6,141.6 L483.1,137.8 L483.6,134.0 L484.0,130.4 L484.5,126.8 L485.0,123.3 L485.5,119.8 L485.9,116.3 L486.4,112.9 L486.9,109.5 L487.3,106.3 L487.8,103.2 L488.3,100.5 L488.7,98.2 L489.2,96.1 L489.7,94.3 L490.1,92.8 L490.6,91.4 L491.1,90.3 L491.5,89.4 L492.0,88.6 L492.5,87.9 L493.0,87.3 L493.4,86.8 L493.9,86.5 L494.4,86.4 L494.8,86.4 L495.3,86.5 L495.8,88.0 L496.2,92.2 L496.7,96.3 L497.2,100.2 L497.6,104.0 L498.1,107.5 L498.6,110.8 L499.0,113.9 L499.5,117.1 L500.0,120.4 L500.5,123.7 L500.9,126.7 L501.4,129.3 L501.9,131.5 L502.3,133.4 L502.8,135.1 L503.3,136.7 L503.7,138.1 L504.2,139.6 L504.7,141.0 L505.1,142.4 L505.6,143.8 L506.1,145.2 L506.6,146.5 L507.0,147.7 L507.5,148.9 L508.0,149.9 L508.4,150.8 L508.9,151.7 L509.4,152.5 L509.8,153.4 L510.3,154.2 L510.8,154.9 L511.2,155.7 L511.7,156.5 L512.2,157.2 L512.6,157.9 L513.1,158.6 L513.6,159.2 L514.1,159.8 L514.5,160.4 L515.0,161.0 L515.5,161.5 L515.9,162.0 L516.4,162.6 L516.9,163.2 L517.3,163.9 L517.8,164.7 L518.3,165.6 L518.7,166.6 L519.2,167.8 L519.7,169.3 L520.1,170.9 L520.6,172.7 L521.1,174.7 L521.6,176.8 L522.0,179.0 L522.5,181.3 L523.0,183.5 L523.4,185.6 L523.9,187.5 L524.4,189.2 L524.8,190.7 L525.3,192.1 L525.8,193.3 L526.2,194.4 L526.7,195.3 L527.2,196.1 L527.6,196.7 L528.1,197.2 L528.6,197.7 L529.1,198.1 L529.5,198.5 L530.0,198.9 L530.5,199.3 L530.9,199.7 L531.4,200.1 L531.9,200.5 L532.3,200.9 L532.8,201.4 L533.3,201.9 L533.7,202.6 L534.2,203.3 L534.7,204.1 L535.2,204.9 L535.6,205.7 L536.1,206.5 L536.6,207.3 L537.0,208.1 L537.5,208.8 L538.0,209.6 L538.4,210.3 L538.9,211.0 L539.4,211.6 L539.8,212.2 L540.3,212.8 L540.8,213.3 L541.2,213.7 L541.7,214.1 L542.2,214.4 L542.7,214.7 L543.1,214.8 L543.6,214.8 L544.1,214.6 L544.5,214.3 L545.0,213.9 L545.5,213.4 L545.9,212.8 L546.4,212.2 L546.9,211.4 L547.3,210.5 L547.8,209.5 L548.3,208.4 L548.7,207.3 L549.2,206.0 L549.7,204.6 L550.2,203.2 L550.6,201.6 L551.1,199.9 L551.6,198.2 L552.0,196.4 L552.5,194.5 L553.0,192.7 L553.4,190.8 L553.9,188.9 L554.4,187.0 L554.8,185.1 L555.3,183.1 L555.8,181.0 L556.2,179.0 L556.7,176.9 L557.2,174.8 L557.7,172.7 L558.1,170.6 L558.6,168.5 L559.1,166.5 L559.5,164.5 L560.0,162.4 L560.5,160.4 L560.9,158.4 L561.4,156.4 L561.9,154.4 L562.3,152.4 L562.8,150.4 L563.3,148.5 L563.8,146.6 L564.2,144.8 L564.7,143.0 L565.2,141.3 L565.6,139.8 L566.1,138.3 L566.6,136.9 L567.0,135.6 L567.5,134.3 L568.0,133.1 L568.4,131.9 L568.9,130.6 L569.4,129.3 L569.8,129.6 L570.3,130.1 L570.8,130.8 L571.3,131.5 L571.7,132.4 L572.2,133.5 L572.7,134.5 L573.1,135.7 L573.6,136.8 L574.1,138.1 L574.5,139.6 L575.0,141.2 L575.5,143.2 L575.9,145.3 L576.4,147.6 L576.9,150.0 L577.3,152.5 L577.8,155.0 L578.3,157.5 L578.8,160.2 L579.2,162.9 L579.7,165.6 L580.2,168.5 L580.6,171.3 L581.1,174.1 L581.6,176.8 L582.0,179.5 L582.5,182.0 L583.0,184.5 L583.4,186.9 L583.9,189.3 L584.4,191.5 L584.8,193.8 L585.3,195.9 L585.8,198.0 L586.3,199.9 L586.7,201.9 L587.2,203.7 L587.7,205.5 L588.1,207.2 L588.6,208.9 L589.1,210.4 L589.5,211.9 L590.0,213.3 L590.5,214.5 L590.9,215.7 L591.4,216.8 L591.9,217.9 L592.4,218.9 L592.8,219.8 L593.3,220.6 L593.8,221.4 L594.2,222.1 L594.7,222.7 L595.2,223.3 L595.6,223.8 L596.1,224.3 L596.6,224.7 L597.0,225.1 L597.5,225.4 L598.0,225.8 L598.4,226.1 L598.9,226.3 L599.4,226.5 L599.9,226.7 L600.3,226.9 L600.8,227.0 L601.3,227.0 L601.7,227.1 L602.2,227.2 L602.7,227.2 L603.1,227.3 L603.6,227.3 L604.1,227.3 L604.5,227.4 L605.0,227.4 L605.5,227.4 L605.9,227.4 L606.4,227.4 L606.9,227.4 L607.4,227.5 L607.8,227.5 L608.3,227.5 L608.8,227.5 L609.2,227.5 L609.7,227.5 L610.2,227.5 L610.6,227.5 L611.1,227.5 L611.6,227.5 L612.0,227.5 L612.5,227.5 L613.0,227.5 L613.4,227.5 L613.9,227.5 L614.4,227.5 L614.9,227.5 L615.3,227.5 L615.8,227.5 L616.3,227.5 L616.7,227.5 L617.2,227.5 L617.7,227.5 L618.1,227.5 L618.6,227.5 L619.1,227.5 L619.5,227.5 L620.0,227.5 L620.5,227.5 L621.0,227.5 L621.4,227.5 L621.9,227.5 L622.4,227.5 L622.8,227.5 L623.3,227.5 L623.8,227.5 L624.2,227.5 L624.7,227.5 L625.2,227.5 L625.6,227.5 L626.1,227.5 L626.6,227.5 L627.0,227.5 L627.5,227.5 L628.0,227.5 L628.5,227.5 L628.9,227.5 L629.4,227.5 L629.9,227.5 L630.3,227.5 L630.8,227.5 L631.3,227.5 L631.7,227.5 L632.2,227.5 L632.7,227.5 L633.1,227.5 L633.6,227.5 L634.1,227.5 L634.5,227.5 L635.0,227.5 L635.5,227.5 L636.0,227.5 L636.4,227.5 L636.9,227.5 L637.4,227.5 L637.8,227.5 L638.3,227.5 L638.8,227.5 L639.2,227.5 L639.7,227.5 L640.2,227.5 L640.6,227.5 L641.1,227.5 L641.6,227.5 L642.0,227.5 L642.05,227.50 L417.00,227.50 Z" fill="#d3d3d3" stroke="none"/>
<line x1="417.00" y1="227.50" x2="642.05" y2="227.50" stroke="#707070" stroke-width="0.6"/>
<path d="M417.0,227.5 L417.5,227.5 L417.9,227.5 L418.4,227.5 L418.9,227.5 L419.3,227.5 L419.8,227.5 L420.3,227.5 L420.8,227.5 L421.2,227.5 L421.7,227.5 L422.2,227.5 L422.6,227.5 L423.1,227.5 L423.6,227.5 L424.0,227.5 L424.5,227.5 L425.0,227.5 L425.4,227.5 L425.9,227.5 L426.4,227.5 L426.8,227.5 L427.3,227.5 L427.8,227.5 L428.3,227.5 L428.7,227.5 L429.2,227.5 L429.7,227.5 L430.1,227.5 L430.6,227.5 L431.1,227.5 L431.5,227.5 L432.0,227.5 L432.5,227.5 L432.9,227.5 L433.4,227.5 L433.9,227.5 L434.3,227.5 L434.8,227.5 L435.3,227.5 L435.8,227.5 L436.2,227.5 L436.7,227.5 L437.2,227.5 L437.6,227.5 L438.1,227.5 L438.6,227.5 L439.0,227.5 L439.5,227.5 L440.0,227.5 L440.4,227.5 L440.9,227.5 L441.4,227.5 L441.8,227.5 L442.3,227.5 L442.8,227.5 L443.3,227.5 L443.7,227.5 L444.2,227.5 L444.7,227.5 L445.1,227.5 L445.6,227.5 L446.1,227.5 L446.5,227.5 L447.0,227.5 L447.5,227.5 L447.9,227.5 L448.4,227.5 L448.9,227.5 L449.4,227.5 L449.8,227.5 L450.3,227.5 L450.8,227.5 L451.2,227.5 L451.7,227.5 L452.2,227.5 L452.6,227.5 L453.1,227.5 L453.6,227.5 L454.0,227.5 L454.5,227.5 L455.0,227.5 L455.4,227.5 L455.9,227.5 L456.4,227.5 L456.9,227.5 L457.3,227.5 L457.8,227.5 L458.3,227.5 L458.7,227.5 L459.2,227.4 L459.7,227.4 L460.1,227.3 L460.6,227.3 L461.1,227.2 L461.5,227.1 L462.0,227.0 L462.5,226.8 L462.9,226.6 L463.4,226.4 L463.9,226.1 L464.4,225.7 L464.8,225.3 L465.3,224.7 L465.8,224.0 L466.2,223.2 L466.7,222.2 L467.2,221.1 L467.6,219.8 L468.1,218.3 L468.6,216.5 L469.0,214.5 L469.5,212.0 L470.0,209.0 L470.4,205.4 L470.9,201.4 L471.4,197.2 L471.9,192.9 L472.3,188.4 L472.8,183.7 L473.3,178.7 L473.7,173.3 L474.2,167.5 L474.7,161.6 L475.1,155.6 L475.6,149.7 L476.1,144.0 L476.5,138.6 L477.0,133.4 L477.5,128.3 L478.0,123.5 L478.4,118.9 L478.9,114.4 L479.4,110.0 L479.8,105.5 L480.3,101.1 L480.8,96.9 L481.2,92.8 L481.7,88.9 L482.2,85.1 L482.6,81.4 L483.1,77.5 L483.6,73.6 L484.0,69.7 L484.5,66.0 L485.0,62.6 L485.5,59.4 L485.9,56.7 L486.4,54.3 L486.9,52.2 L487.3,50.5 L487.8,49.3 L488.3,48.4 L488.7,48.0 L489.2,48.1 L489.7,48.6 L490.1,49.5 L490.6,50.8 L491.1,52.4 L491.5,54.5 L492.0,57.0 L492.5,60.1 L493.0,63.5 L493.4,67.3 L493.9,71.3 L494.4,75.4 L494.8,79.5 L495.3,83.8 L495.8,88.0 L496.2,92.2 L496.7,96.3 L497.2,100.2 L497.6,104.0 L498.1,107.5 L498.6,110.8 L499.0,113.9 L499.5,117.1 L500.0,120.4 L500.5,123.7 L500.9,126.7 L501.4,129.3 L501.9,131.5 L502.3,133.4 L502.8,135.1 L503.3,136.7 L503.7,138.1 L504.2,139.6 L504.7,141.0 L505.1,142.4 L505.6,143.8 L506.1,145.2 L506.6,146.5 L507.0,147.7 L507.5,148.9 L508.0,149.9 L508.4,150.8 L508.9,151.7 L509.4,152.5 L509.8,153.4 L510.3,154.2 L510.8,154.9 L511.2,155.7 L511.7,156.5 L512.2,157.2 L512.6,157.9 L513.1,158.6 L513.6,159.2 L514.1,159.8 L514.5,160.4 L515.0,161.0 L515.5,161.5 L515.9,162.0 L516.4,162.6 L516.9,163.2 L517.3,163.9 L517.8,164.7 L518.3,165.6 L518.7,166.6 L519.2,167.8 L519.7,169.3 L520.1,170.9 L520.6,172.7 L521.1,174.7 L521.6,176.8 L522.0,179.0 L522.5,181.3 L523.0,183.5 L523.4,185.6 L523.9,187.5 L524.4,189.2 L524.8,190.7 L525.3,192.1 L525.8,193.3 L526.2,194.4 L526.7,195.3 L527.2,196.1 L527.6,196.7 L528.1,197.2 L528.6,197.7 L529.1,198.1 L529.5,198.5 L530.0,198.9 L530.5,199.3 L530.9,199.7 L531.4,200.1 L531.9,200.5 L532.3,200.9 L532.8,201.4 L533.3,201.9 L533.7,202.6 L534.2,203.3 L534.7,204.1 L535.2,204.9 L535.6,205.7 L536.1,206.5 L536.6,207.3 L537.0,208.1 L537.5,208.8 L538.0,209.6 L538.4,210.3 L538.9,211.0 L539.4,211.6 L539.8,212.2 L540.3,212.8 L540.8,213.3 L541.2,213.7 L541.7,214.1 L542.2,214.4 L542.7,214.7 L543.1,214.8 L543.6,214.8 L544.1,214.6 L544.5,214.3 L545.0,213.9 L545.5,213.4 L545.9,212.8 L546.4,212.2 L546.9,211.4 L547.3,210.5 L547.8,209.5 L548.3,208.4 L548.7,207.3 L549.2,206.0 L549.7,204.6 L550.2,203.2 L550.6,201.6 L551.1,199.9 L551.6,198.2 L552.0,196.4 L552.5,194.5 L553.0,192.7 L553.4,190.8 L553.9,188.9 L554.4,187.0 L554.8,185.1 L555.3,183.1 L555.8,181.0 L556.2,179.0 L556.7,176.9 L557.2,174.8 L557.7,172.7 L558.1,170.6 L558.6,168.5 L559.1,166.5 L559.5,164.5 L560.0,162.4 L560.5,160.4 L560.9,158.4 L561.4,156.4 L561.9,154.4 L562.3,152.4 L562.8,150.4 L563.3,148.5 L563.8,146.6 L564.2,144.8 L564.7,143.0 L565.2,141.3 L565.6,139.8 L566.1,138.3 L566.6,136.9 L567.0,135.6 L567.5,134.3 L568.0,133.1 L568.4,131.9 L568.9,130.6 L569.4,129.3 L569.8,128.0 L570.3,126.8 L570.8,125.6 L571.3,124.5 L571.7,123.6 L572.2,122.8 L572.7,122.1 L573.1,121.4 L573.6,120.9 L574.1,120.5 L574.5,120.2 L575.0,120.0 L575.5,120.0 L575.9,120.2 L576.4,120.6 L576.9,121.1 L577.3,121.8 L577.8,122.5 L578.3,123.4 L578.8,124.3 L579.2,125.4 L579.7,126.5 L580.2,127.5 L580.6,128.6 L581.1,129.7 L581.6,130.8 L582.0,132.0 L582.5,133.3 L583.0,134.7 L583.4,136.2 L583.9,137.7 L584.4,139.2 L584.8,140.7 L585.3,142.1 L585.8,143.5 L586.3,145.0 L586.7,146.5 L587.2,148.0 L587.7,149.7 L588.1,151.5 L588.6,153.5 L589.1,155.6 L589.5,157.9 L590.0,160.3 L590.5,162.8 L590.9,165.3 L591.4,167.9 L591.9,170.5 L592.4,173.1 L592.8,175.9 L593.3,178.7 L593.8,181.5 L594.2,184.4 L594.7,187.2 L595.2,189.9 L595.6,192.6 L596.1,195.2 L596.6,197.8 L597.0,200.3 L597.5,202.7 L598.0,205.0 L598.4,207.2 L598.9,209.3 L599.4,211.4 L599.9,213.3 L600.3,215.1 L600.8,216.8 L601.3,218.3 L601.7,219.7 L602.2,220.9 L602.7,222.0 L603.1,223.0 L603.6,223.9 L604.1,224.6 L604.5,225.2 L605.0,225.6 L605.5,226.0 L605.9,226.3 L606.4,226.5 L606.9,226.7 L607.4,226.9 L607.8,227.1 L608.3,227.2 L608.8,227.3 L609.2,227.4 L609.7,227.4 L610.2,227.5 L610.6,227.5 L611.1,227.5 L611.6,227.5 L612.0,227.5 L612.5,227.5 L613.0,227.5 L613.4,227.5 L613.9,227.5 L614.4,227.5 L614.9,227.5 L615.3,227.5 L615.8,227.5 L616.3,227.5 L616.7,227.5 L617.2,227.5 L617.7,227.5 L618.1,227.5 L618.6,227.5 L619.1,227.5 L619.5,227.5 L620.0,227.5 L620.5,227.5 L621.0,227.5 L621.4,227.5 L621.9,227.5 L622.4,227.5 L622.8,227.5 L623.3,227.5 L623.8,227.5 L624.2,227.5 L624.7,227.5 L625.2,227.5 L625.6,227.5 L626.1,227.5 L626.6,227.5 L627.0,227.5 L627.5,227.5 L628.0,227.5 L628.5,227.5 L628.9,227.5 L629.4,227.5 L629.9,227.5 L630.3,227.5 L630.8,227.5 L631.3,227.5 L631.7,227.5 L632.2,227.5 L632.7,227.5 L633.1,227.5 L633.6,227.5 L634.1,227.5 L634.5,227.5 L635.0,227.5 L635.5,227.5 L636.0,227.5 L636.4,227.5 L636.9,227.5 L637.4,227.5 L637.8,227.5 L638.3,227.5 L638.8,227.5 L639.2,227.5 L639.7,227.5 L640.2,227.5 L640.6,227.5 L641.1,227.5 L641.6,227.5 L642.0,227.5" fill="none" stroke="#141414" stroke-width="1.6" stroke-linejoin="round" stroke-linecap="round"/>
<path d="M417.0,227.5 L417.5,227.5 L417.9,227.5 L418.4,227.5 L418.9,227.5 L419.3,227.4 L419.8,227.4 L420.3,227.4 L420.8,227.4 L421.2,227.4 L421.7,227.3 L422.2,227.3 L422.6,227.3 L423.1,227.2 L423.6,227.2 L424.0,227.1 L424.5,227.1 L425.0,227.0 L425.4,227.0 L425.9,226.9 L426.4,226.8 L426.8,226.7 L427.3,226.6 L427.8,226.6 L428.3,226.5 L428.7,226.4 L429.2,226.3 L429.7,226.1 L430.1,226.0 L430.6,225.9 L431.1,225.7 L431.5,225.5 L432.0,225.3 L432.5,225.2 L432.9,225.0 L433.4,224.8 L433.9,224.6 L434.3,224.4 L434.8,224.2 L435.3,223.9 L435.8,223.7 L436.2,223.5 L436.7,223.3 L437.2,223.1 L437.6,222.9 L438.1,222.8 L438.6,222.6 L439.0,222.5 L439.5,222.4 L440.0,222.3 L440.4,222.2 L440.9,222.1 L441.4,222.1 L441.8,222.0 L442.3,222.0 L442.8,222.0 L443.3,222.0 L443.7,222.0 L444.2,221.9 L444.7,221.9 L445.1,221.9 L445.6,221.9 L446.1,221.9 L446.5,221.9 L447.0,221.9 L447.5,221.9 L447.9,221.9 L448.4,221.9 L448.9,221.9 L449.4,221.9 L449.8,221.9 L450.3,221.9 L450.8,221.9 L451.2,221.9 L451.7,221.9 L452.2,221.9 L452.6,221.9 L453.1,221.9 L453.6,221.9 L454.0,221.9 L454.5,221.9 L455.0,221.9 L455.4,221.9 L455.9,221.9 L456.4,221.9 L456.9,221.9 L457.3,222.0 L457.8,222.0 L458.3,222.0 L458.7,222.0 L459.2,222.0 L459.7,222.0 L460.1,222.1 L460.6,222.1 L461.1,222.2 L461.5,222.2 L462.0,222.3 L462.5,222.4 L462.9,222.4 L463.4,222.4 L463.9,222.4 L464.4,222.3 L464.8,222.2 L465.3,221.9 L465.8,221.5 L466.2,221.1 L466.7,220.7 L467.2,220.2 L467.6,219.7 L468.1,219.2 L468.6,218.6 L469.0,218.0 L469.5,217.2 L470.0,216.4 L470.4,215.4 L470.9,214.2 L471.4,212.8 L471.9,211.2 L472.3,209.4 L472.8,207.6 L473.3,205.7 L473.7,203.6 L474.2,201.3 L474.7,198.9 L475.1,196.2 L475.6,193.3 L476.1,190.4 L476.5,187.5 L477.0,184.8 L477.5,182.3 L478.0,179.7 L478.4,176.8 L478.9,173.5 L479.4,169.9 L479.8,165.9 L480.3,161.9 L480.8,157.7 L481.2,153.6 L481.7,149.6 L482.2,145.6 L482.6,141.6 L483.1,137.8 L483.6,134.0 L484.0,130.4 L484.5,126.8 L485.0,123.3 L485.5,119.8 L485.9,116.3 L486.4,112.9 L486.9,109.5 L487.3,106.3 L487.8,103.2 L488.3,100.5 L488.7,98.2 L489.2,96.1 L489.7,94.3 L490.1,92.8 L490.6,91.4 L491.1,90.3 L491.5,89.4 L492.0,88.6 L492.5,87.9 L493.0,87.3 L493.4,86.8 L493.9,86.5 L494.4,86.4 L494.8,86.4 L495.3,86.5 L495.8,86.8 L496.2,87.1 L496.7,87.4 L497.2,87.8 L497.6,88.3 L498.1,88.8 L498.6,89.3 L499.0,89.9 L499.5,90.6 L500.0,91.4 L500.5,92.3 L500.9,93.3 L501.4,94.4 L501.9,95.7 L502.3,97.0 L502.8,98.5 L503.3,100.0 L503.7,101.6 L504.2,103.2 L504.7,104.9 L505.1,106.6 L505.6,108.4 L506.1,110.2 L506.6,112.1 L507.0,114.2 L507.5,116.5 L508.0,118.9 L508.4,121.4 L508.9,124.0 L509.4,126.5 L509.8,128.9 L510.3,131.3 L510.8,133.7 L511.2,136.0 L511.7,138.4 L512.2,140.7 L512.6,143.0 L513.1,145.2 L513.6,147.3 L514.1,149.3 L514.5,151.2 L515.0,153.0 L515.5,154.7 L515.9,156.4 L516.4,158.1 L516.9,159.7 L517.3,161.2 L517.8,162.6 L518.3,163.9 L518.7,165.1 L519.2,166.2 L519.7,167.2 L520.1,168.0 L520.6,168.8 L521.1,169.5 L521.6,170.1 L522.0,170.6 L522.5,171.1 L523.0,171.5 L523.4,171.9 L523.9,172.1 L524.4,172.3 L524.8,172.4 L525.3,172.3 L525.8,172.1 L526.2,171.9 L526.7,171.6 L527.2,171.2 L527.6,170.9 L528.1,170.5 L528.6,170.1 L529.1,169.7 L529.5,169.3 L530.0,168.9 L530.5,168.5 L530.9,168.2 L531.4,167.9 L531.9,167.6 L532.3,167.3 L532.8,167.1 L533.3,167.0 L533.7,166.9 L534.2,166.8 L534.7,166.9 L535.2,167.1 L535.6,167.3 L536.1,167.6 L536.6,167.9 L537.0,168.3 L537.5,168.7 L538.0,169.2 L538.4,169.8 L538.9,170.3 L539.4,170.9 L539.8,171.4 L540.3,172.0 L540.8,172.4 L541.2,172.9 L541.7,173.3 L542.2,173.7 L542.7,174.0 L543.1,174.3 L543.6,174.5 L544.1,174.7 L544.5,174.8 L545.0,174.8 L545.5,174.7 L545.9,174.5 L546.4,174.1 L546.9,173.7 L547.3,173.1 L547.8,172.4 L548.3,171.7 L548.7,170.8 L549.2,170.0 L549.7,169.2 L550.2,168.4 L550.6,167.4 L551.1,166.3 L551.6,165.0 L552.0,163.5 L552.5,161.9 L553.0,160.2 L553.4,158.5 L553.9,156.7 L554.4,155.0 L554.8,153.3 L555.3,151.7 L555.8,150.1 L556.2,148.6 L556.7,147.1 L557.2,145.6 L557.7,144.1 L558.1,142.6 L558.6,141.2 L559.1,139.9 L559.5,138.7 L560.0,137.5 L560.5,136.4 L560.9,135.4 L561.4,134.5 L561.9,133.6 L562.3,132.8 L562.8,132.0 L563.3,131.4 L563.8,130.8 L564.2,130.3 L564.7,129.9 L565.2,129.5 L565.6,129.2 L566.1,128.9 L566.6,128.7 L567.0,128.6 L567.5,128.5 L568.0,128.5 L568.4,128.6 L568.9,128.9 L569.4,129.2 L569.8,129.6 L570.3,130.1 L570.8,130.8 L571.3,131.5 L571.7,132.4 L572.2,133.5 L572.7,134.5 L573.1,135.7 L573.6,136.8 L574.1,138.1 L574.5,139.6 L575.0,141.2 L575.5,143.2 L575.9,145.3 L576.4,147.6 L576.9,150.0 L577.3,152.5 L577.8,155.0 L578.3,157.5 L578.8,160.2 L579.2,162.9 L579.7,165.6 L580.2,168.5 L580.6,171.3 L581.1,174.1 L581.6,176.8 L582.0,179.5 L582.5,182.0 L583.0,184.5 L583.4,186.9 L583.9,189.3 L584.4,191.5 L584.8,193.8 L585.3,195.9 L585.8,198.0 L586.3,199.9 L586.7,201.9 L587.2,203.7 L587.7,205.5 L588.1,207.2 L588.6,208.9 L589.1,210.4 L589.5,211.9 L590.0,213.3 L590.5,214.5 L590.9,215.7 L591.4,216.8 L591.9,217.9 L592.4,218.9 L592.8,219.8 L593.3,220.6 L593.8,221.4 L594.2,222.1 L594.7,222.7 L595.2,223.3 L595.6,223.8 L596.1,224.3 L596.6,224.7 L597.0,225.1 L597.5,225.4 L598.0,225.8 L598.4,226.1 L598.9,226.3 L599.4,226.5 L599.9,226.7 L600.3,226.9 L600.8,227.0 L601.3,227.0 L601.7,227.1 L602.2,227.2 L602.7,227.2 L603.1,227.3 L603.6,227.3 L604.1,227.3 L604.5,227.4 L605.0,227.4 L605.5,227.4 L605.9,227.4 L606.4,227.4 L606.9,227.4 L607.4,227.5 L607.8,227.5 L608.3,227.5 L608.8,227.5 L609.2,227.5 L609.7,227.5 L610.2,227.5 L610.6,227.5 L611.1,227.4 L611.6,227.4 L612.0,227.3 L612.5,227.3 L613.0,227.2 L613.4,227.1 L613.9,226.9 L614.4,226.8 L614.9,226.7 L615.3,226.5 L615.8,226.3 L616.3,226.1 L616.7,225.8 L617.2,225.4 L617.7,225.1 L618.1,224.8 L618.6,224.5 L619.1,224.2 L619.5,223.9 L620.0,223.6 L620.5,223.4 L621.0,223.1 L621.4,222.9 L621.9,222.7 L622.4,222.6 L622.8,222.5 L623.3,222.4 L623.8,222.3 L624.2,222.3 L624.7,222.2 L625.2,222.2 L625.6,222.2 L626.1,222.3 L626.6,222.3 L627.0,222.4 L627.5,222.5 L628.0,222.6 L628.5,222.7 L628.9,222.8 L629.4,223.0 L629.9,223.2 L630.3,223.4 L630.8,223.6 L631.3,223.8 L631.7,224.0 L632.2,224.3 L632.7,224.5 L633.1,224.7 L633.6,224.9 L634.1,225.2 L634.5,225.4 L635.0,225.6 L635.5,225.9 L636.0,226.1 L636.4,226.3 L636.9,226.4 L637.4,226.6 L637.8,226.7 L638.3,226.9 L638.8,227.0 L639.2,227.1 L639.7,227.2 L640.2,227.3 L640.6,227.3 L641.1,227.4 L641.6,227.4 L642.0,227.5" fill="none" stroke="#3b4699" stroke-width="1.55" stroke-dasharray="6 4" stroke-linejoin="round" stroke-linecap="butt"/>
<rect x="408.00" y="40.95" width="243.05" height="193.70" fill="none" stroke="#222222" stroke-width="1.45"/>
<line x1="417.00" y1="234.65" x2="417.00" y2="243.85" stroke="#222222" stroke-width="1.45"/>
<text transform="translate(417.00,264.20) scale(1,1.07)" text-anchor="middle" class="t">0:00</text>
<line x1="473.26" y1="234.65" x2="473.26" y2="243.85" stroke="#222222" stroke-width="1.45"/>
<text transform="translate(473.26,264.20) scale(1,1.07)" text-anchor="middle" class="t">6:00</text>
<line x1="529.52" y1="234.65" x2="529.52" y2="243.85" stroke="#222222" stroke-width="1.45"/>
<text transform="translate(529.52,264.20) scale(1,1.07)" text-anchor="middle" class="t">12:00</text>
<line x1="585.79" y1="234.65" x2="585.79" y2="243.85" stroke="#222222" stroke-width="1.45"/>
<text transform="translate(585.79,264.20) scale(1,1.07)" text-anchor="middle" class="t">18:00</text>
<line x1="642.05" y1="234.65" x2="642.05" y2="243.85" stroke="#222222" stroke-width="1.45"/>
<text transform="translate(642.05,264.20) scale(1,1.07)" text-anchor="middle" class="t">24:00</text>
<line x1="398.80" y1="227.50" x2="408.00" y2="227.50" stroke="#222222" stroke-width="1.45"/>
<line x1="398.80" y1="176.25" x2="408.00" y2="176.25" stroke="#222222" stroke-width="1.45"/>
<line x1="398.80" y1="125.00" x2="408.00" y2="125.00" stroke="#222222" stroke-width="1.45"/>
<line x1="398.80" y1="73.75" x2="408.00" y2="73.75" stroke="#222222" stroke-width="1.45"/>
<text transform="translate(388.40,227.50) rotate(-90) scale(1,1.07)" text-anchor="middle" class="t">0.00</text>
<text transform="translate(388.40,176.25) rotate(-90) scale(1,1.07)" text-anchor="middle" class="t">0.05</text>
<text transform="translate(388.40,125.00) rotate(-90) scale(1,1.07)" text-anchor="middle" class="t">0.10</text>
<text transform="translate(388.40,73.75) rotate(-90) scale(1,1.07)" text-anchor="middle" class="t">0.15</text>
<text transform="translate(529.50,296.30) scale(1,1.07)" text-anchor="middle" class="t" style="font-size:13.8px">Time</text>
<text transform="translate(355.10,137.80) rotate(-90) scale(1,1.07)" text-anchor="middle" class="t" style="font-size:13.7px">Density</text>
<text x="529.50" y="13.30" text-anchor="middle" class="h">(b) Camera traps</text>
<rect x="484.70" y="40.95" width="89.45" height="32.35" fill="none" stroke="#222222" stroke-width="1.45"/>
<text transform="translate(509.80,62.30) scale(1,1.07)" class="t" style="font-size:13.7px">Δ = 0.763</text></g>
<g><path d="M72.8,571.5 L73.3,571.5 L73.7,571.5 L74.2,571.5 L74.7,571.5 L75.1,571.5 L75.6,571.5 L76.1,571.5 L76.6,571.5 L77.0,571.5 L77.5,571.5 L78.0,571.5 L78.4,571.5 L78.9,571.5 L79.4,571.5 L79.8,571.5 L80.3,571.5 L80.8,571.5 L81.2,571.5 L81.7,571.5 L82.2,571.5 L82.6,571.5 L83.1,571.5 L83.6,571.5 L84.1,571.5 L84.5,571.5 L85.0,571.5 L85.5,571.5 L85.9,571.5 L86.4,571.5 L86.9,571.5 L87.3,571.5 L87.8,571.5 L88.3,571.5 L88.7,571.5 L89.2,571.5 L89.7,571.5 L90.1,571.5 L90.6,571.5 L91.1,571.5 L91.6,571.5 L92.0,571.5 L92.5,571.5 L93.0,571.5 L93.4,571.5 L93.9,571.5 L94.4,571.5 L94.8,571.5 L95.3,571.5 L95.8,571.5 L96.2,571.5 L96.7,571.5 L97.2,571.5 L97.6,571.5 L98.1,571.5 L98.6,571.5 L99.1,571.5 L99.5,571.5 L100.0,571.5 L100.5,571.5 L100.9,571.5 L101.4,571.5 L101.9,571.5 L102.3,571.5 L102.8,571.5 L103.3,571.5 L103.7,571.5 L104.2,571.5 L104.7,571.5 L105.2,571.5 L105.6,571.5 L106.1,571.5 L106.6,571.5 L107.0,571.5 L107.5,571.5 L108.0,571.5 L108.4,571.5 L108.9,571.5 L109.4,571.5 L109.8,571.5 L110.3,571.5 L110.8,571.5 L111.2,571.5 L111.7,571.5 L112.2,571.5 L112.7,571.5 L113.1,571.5 L113.6,571.5 L114.1,571.5 L114.5,571.5 L115.0,571.4 L115.5,571.4 L115.9,571.3 L116.4,571.3 L116.9,571.2 L117.3,571.1 L117.8,571.0 L118.3,570.8 L118.7,570.6 L119.2,570.4 L119.7,570.1 L120.2,569.7 L120.6,569.3 L121.1,568.7 L121.6,568.0 L122.0,567.2 L122.5,566.2 L123.0,565.1 L123.4,563.8 L123.9,562.3 L124.4,560.5 L124.8,558.5 L125.3,556.0 L125.8,553.0 L126.2,549.4 L126.7,545.4 L127.2,541.2 L127.7,536.9 L128.1,532.4 L128.6,527.7 L129.1,522.7 L129.5,517.3 L130.0,511.5 L130.5,505.6 L130.9,499.6 L131.4,493.7 L131.9,488.0 L132.3,482.6 L132.8,477.4 L133.3,472.3 L133.8,467.5 L134.2,462.9 L134.7,458.4 L135.2,454.0 L135.6,450.3 L136.1,449.7 L136.6,449.3 L137.0,449.2 L137.5,449.3 L138.0,449.6 L138.4,450.2 L138.9,451.0 L139.4,452.0 L139.8,453.2 L140.3,454.8 L140.8,456.7 L141.3,458.8 L141.7,461.1 L142.2,463.5 L142.7,465.9 L143.1,468.3 L143.6,470.7 L144.1,473.2 L144.5,475.6 L145.0,478.0 L145.5,480.3 L145.9,482.4 L146.4,484.3 L146.9,486.3 L147.3,488.1 L147.8,490.0 L148.3,491.7 L148.8,493.4 L149.2,495.1 L149.7,496.8 L150.2,498.6 L150.6,500.4 L151.1,502.3 L151.6,504.1 L152.0,505.9 L152.5,507.5 L153.0,509.1 L153.4,510.6 L153.9,512.0 L154.4,513.3 L154.8,514.6 L155.3,515.7 L155.8,516.8 L156.3,517.7 L156.7,518.6 L157.2,519.4 L157.7,520.1 L158.1,520.7 L158.6,521.3 L159.1,521.9 L159.5,522.4 L160.0,522.9 L160.5,523.4 L160.9,523.8 L161.4,524.2 L161.9,524.6 L162.4,524.9 L162.8,525.2 L163.3,525.5 L163.8,525.8 L164.2,526.1 L164.7,526.3 L165.2,526.5 L165.6,526.6 L166.1,526.7 L166.6,526.8 L167.0,526.9 L167.5,526.9 L168.0,526.9 L168.4,526.9 L168.9,526.9 L169.4,526.9 L169.9,526.8 L170.3,526.7 L170.8,526.6 L171.3,526.5 L171.7,526.4 L172.2,526.3 L172.7,526.2 L173.1,526.1 L173.6,526.0 L174.1,525.9 L174.5,525.8 L175.0,525.7 L175.5,525.7 L175.9,525.6 L176.4,525.6 L176.9,525.6 L177.4,525.6 L177.8,525.5 L178.3,525.6 L178.8,527.5 L179.2,529.6 L179.7,531.5 L180.2,533.2 L180.6,534.7 L181.1,536.1 L181.6,537.3 L182.0,538.4 L182.5,539.3 L183.0,540.1 L183.4,540.7 L183.9,541.2 L184.4,541.7 L184.9,542.1 L185.3,542.5 L185.8,542.9 L186.3,543.3 L186.7,543.7 L187.2,544.1 L187.7,544.5 L188.1,544.9 L188.6,545.4 L189.1,545.9 L189.5,546.6 L190.0,547.3 L190.5,548.1 L191.0,548.9 L191.4,549.7 L191.9,550.5 L192.4,551.3 L192.8,552.1 L193.3,552.8 L193.8,553.6 L194.2,554.3 L194.7,555.0 L195.2,555.6 L195.6,556.2 L196.1,556.8 L196.6,557.3 L197.0,557.7 L197.5,558.1 L198.0,558.4 L198.5,558.7 L198.9,558.8 L199.4,558.8 L199.9,558.6 L200.3,558.3 L200.8,557.9 L201.3,557.4 L201.7,556.8 L202.2,556.2 L202.7,555.4 L203.1,554.5 L203.6,553.5 L204.1,552.4 L204.5,551.3 L205.0,550.0 L205.5,548.6 L206.0,547.2 L206.4,545.6 L206.9,543.9 L207.4,542.2 L207.8,540.4 L208.3,538.5 L208.8,536.7 L209.2,534.8 L209.7,532.9 L210.2,531.0 L210.6,529.1 L211.1,527.1 L211.6,525.0 L212.0,523.0 L212.5,520.9 L213.0,518.8 L213.5,516.7 L213.9,514.6 L214.4,512.5 L214.9,510.5 L215.3,508.5 L215.8,506.4 L216.3,504.4 L216.7,502.4 L217.2,500.4 L217.7,498.4 L218.1,496.4 L218.6,494.4 L219.1,492.5 L219.6,490.6 L220.0,488.8 L220.5,487.0 L221.0,485.3 L221.4,483.8 L221.9,482.3 L222.4,480.9 L222.8,479.6 L223.3,479.1 L223.8,478.8 L224.2,478.5 L224.7,478.3 L225.2,478.1 L225.6,478.0 L226.1,477.9 L226.6,477.8 L227.1,477.8 L227.5,477.8 L228.0,477.9 L228.5,478.1 L228.9,478.3 L229.4,478.5 L229.9,478.8 L230.3,479.1 L230.8,479.5 L231.3,479.9 L231.7,480.4 L232.2,481.0 L232.7,481.6 L233.1,482.3 L233.6,483.0 L234.1,483.8 L234.6,484.6 L235.0,485.5 L235.5,486.4 L236.0,487.3 L236.4,488.1 L236.9,489.0 L237.4,489.9 L237.8,490.9 L238.3,491.9 L238.8,492.9 L239.2,493.9 L239.7,494.9 L240.2,495.9 L240.6,496.9 L241.1,497.8 L241.6,498.6 L242.1,499.3 L242.5,500.0 L243.0,500.5 L243.5,500.9 L243.9,501.3 L244.4,501.7 L244.9,501.9 L245.3,502.2 L245.8,504.3 L246.3,506.8 L246.7,509.3 L247.2,511.9 L247.7,514.5 L248.2,517.1 L248.6,519.9 L249.1,522.7 L249.6,525.5 L250.0,528.4 L250.5,531.2 L251.0,533.9 L251.4,536.6 L251.9,539.2 L252.4,541.8 L252.8,544.3 L253.3,546.7 L253.8,549.0 L254.2,551.2 L254.7,553.3 L255.2,555.4 L255.7,557.3 L256.1,559.1 L256.6,560.8 L257.1,562.3 L257.5,563.7 L258.0,564.9 L258.5,566.0 L258.9,567.0 L259.4,567.9 L259.9,568.6 L260.3,569.2 L260.8,569.6 L261.3,570.0 L261.7,570.3 L262.2,570.5 L262.7,570.7 L263.2,570.9 L263.6,571.1 L264.1,571.2 L264.6,571.3 L265.0,571.4 L265.5,571.4 L266.0,571.5 L266.4,571.5 L266.9,571.5 L267.4,571.5 L267.8,571.5 L268.3,571.5 L268.8,571.5 L269.2,571.5 L269.7,571.5 L270.2,571.5 L270.7,571.5 L271.1,571.5 L271.6,571.5 L272.1,571.5 L272.5,571.5 L273.0,571.5 L273.5,571.5 L273.9,571.5 L274.4,571.5 L274.9,571.5 L275.3,571.5 L275.8,571.5 L276.3,571.5 L276.8,571.5 L277.2,571.5 L277.7,571.5 L278.2,571.5 L278.6,571.5 L279.1,571.5 L279.6,571.5 L280.0,571.5 L280.5,571.5 L281.0,571.5 L281.4,571.5 L281.9,571.5 L282.4,571.5 L282.8,571.5 L283.3,571.5 L283.8,571.5 L284.3,571.5 L284.7,571.5 L285.2,571.5 L285.7,571.5 L286.1,571.5 L286.6,571.5 L287.1,571.5 L287.5,571.5 L288.0,571.5 L288.5,571.5 L288.9,571.5 L289.4,571.5 L289.9,571.5 L290.3,571.5 L290.8,571.5 L291.3,571.5 L291.8,571.5 L292.2,571.5 L292.7,571.5 L293.2,571.5 L293.6,571.5 L294.1,571.5 L294.6,571.5 L295.0,571.5 L295.5,571.5 L296.0,571.5 L296.4,571.5 L296.9,571.5 L297.4,571.5 L297.9,571.5 L297.85,571.50 L72.80,571.50 Z" fill="#d3d3d3" stroke="none"/>
<line x1="72.80" y1="571.50" x2="297.85" y2="571.50" stroke="#707070" stroke-width="0.6"/>
<path d="M72.8,571.5 L73.3,571.5 L73.7,571.5 L74.2,571.5 L74.7,571.5 L75.1,571.5 L75.6,571.5 L76.1,571.5 L76.6,571.5 L77.0,571.5 L77.5,571.5 L78.0,571.5 L78.4,571.5 L78.9,571.5 L79.4,571.5 L79.8,571.5 L80.3,571.5 L80.8,571.5 L81.2,571.5 L81.7,571.5 L82.2,571.5 L82.6,571.5 L83.1,571.5 L83.6,571.5 L84.1,571.5 L84.5,571.5 L85.0,571.5 L85.5,571.5 L85.9,571.5 L86.4,571.5 L86.9,571.5 L87.3,571.5 L87.8,571.5 L88.3,571.5 L88.7,571.5 L89.2,571.5 L89.7,571.5 L90.1,571.5 L90.6,571.5 L91.1,571.5 L91.6,571.5 L92.0,571.5 L92.5,571.5 L93.0,571.5 L93.4,571.5 L93.9,571.5 L94.4,571.5 L94.8,571.5 L95.3,571.5 L95.8,571.5 L96.2,571.5 L96.7,571.5 L97.2,571.5 L97.6,571.5 L98.1,571.5 L98.6,571.5 L99.1,571.5 L99.5,571.5 L100.0,571.5 L100.5,571.5 L100.9,571.5 L101.4,571.5 L101.9,571.5 L102.3,571.5 L102.8,571.5 L103.3,571.5 L103.7,571.5 L104.2,571.5 L104.7,571.5 L105.2,571.5 L105.6,571.5 L106.1,571.5 L106.6,571.5 L107.0,571.5 L107.5,571.5 L108.0,571.5 L108.4,571.5 L108.9,571.5 L109.4,571.4 L109.8,571.4 L110.3,571.4 L110.8,571.3 L111.2,571.2 L111.7,571.1 L112.2,571.0 L112.7,570.8 L113.1,570.7 L113.6,570.5 L114.1,570.2 L114.5,570.0 L115.0,569.7 L115.5,569.4 L115.9,569.0 L116.4,568.5 L116.9,567.9 L117.3,567.2 L117.8,566.3 L118.3,565.3 L118.7,564.1 L119.2,562.8 L119.7,561.3 L120.2,559.7 L120.6,557.9 L121.1,555.9 L121.6,553.7 L122.0,551.2 L122.5,548.4 L123.0,545.4 L123.4,542.1 L123.9,538.5 L124.4,534.8 L124.8,530.9 L125.3,526.8 L125.8,522.5 L126.2,518.2 L126.7,513.8 L127.2,509.5 L127.7,505.1 L128.1,500.7 L128.6,496.3 L129.1,491.9 L129.5,487.5 L130.0,483.4 L130.5,479.4 L130.9,475.6 L131.4,471.8 L131.9,468.1 L132.3,464.6 L132.8,461.3 L133.3,458.5 L133.8,456.0 L134.2,454.0 L134.7,452.4 L135.2,451.2 L135.6,450.3 L136.1,449.7 L136.6,449.3 L137.0,449.2 L137.5,449.3 L138.0,449.6 L138.4,450.2 L138.9,451.0 L139.4,452.0 L139.8,453.2 L140.3,454.8 L140.8,456.7 L141.3,458.8 L141.7,461.1 L142.2,463.5 L142.7,465.9 L143.1,468.3 L143.6,470.7 L144.1,473.2 L144.5,475.6 L145.0,478.0 L145.5,480.3 L145.9,482.4 L146.4,484.3 L146.9,486.3 L147.3,488.1 L147.8,490.0 L148.3,491.7 L148.8,493.4 L149.2,495.1 L149.7,496.8 L150.2,498.6 L150.6,500.4 L151.1,502.3 L151.6,504.1 L152.0,505.9 L152.5,507.5 L153.0,509.1 L153.4,510.6 L153.9,512.0 L154.4,513.3 L154.8,514.6 L155.3,515.7 L155.8,516.8 L156.3,517.7 L156.7,518.6 L157.2,519.4 L157.7,520.1 L158.1,520.7 L158.6,521.3 L159.1,521.9 L159.5,522.4 L160.0,522.9 L160.5,523.4 L160.9,523.8 L161.4,524.2 L161.9,524.6 L162.4,524.9 L162.8,525.2 L163.3,525.5 L163.8,525.8 L164.2,526.1 L164.7,526.3 L165.2,526.5 L165.6,526.6 L166.1,526.7 L166.6,526.8 L167.0,526.9 L167.5,526.9 L168.0,526.9 L168.4,526.9 L168.9,526.9 L169.4,526.9 L169.9,526.8 L170.3,526.7 L170.8,526.6 L171.3,526.5 L171.7,526.4 L172.2,526.3 L172.7,526.2 L173.1,526.1 L173.6,526.0 L174.1,525.9 L174.5,525.8 L175.0,525.7 L175.5,525.7 L175.9,525.6 L176.4,525.6 L176.9,525.6 L177.4,525.6 L177.8,525.5 L178.3,525.6 L178.8,525.6 L179.2,525.6 L179.7,525.7 L180.2,525.7 L180.6,525.8 L181.1,525.8 L181.6,525.9 L182.0,526.0 L182.5,526.1 L183.0,526.2 L183.4,526.3 L183.9,526.4 L184.4,526.5 L184.9,526.7 L185.3,526.8 L185.8,527.0 L186.3,527.2 L186.7,527.3 L187.2,527.5 L187.7,527.7 L188.1,527.9 L188.6,528.1 L189.1,528.3 L189.5,528.6 L190.0,528.8 L190.5,529.1 L191.0,529.4 L191.4,529.7 L191.9,530.0 L192.4,530.3 L192.8,530.6 L193.3,530.9 L193.8,531.2 L194.2,531.5 L194.7,531.8 L195.2,532.1 L195.6,532.3 L196.1,532.6 L196.6,532.9 L197.0,533.1 L197.5,533.3 L198.0,533.5 L198.5,533.6 L198.9,533.7 L199.4,533.7 L199.9,533.6 L200.3,533.5 L200.8,533.3 L201.3,533.0 L201.7,532.6 L202.2,532.2 L202.7,531.7 L203.1,531.2 L203.6,530.7 L204.1,530.1 L204.5,529.3 L205.0,528.4 L205.5,527.4 L206.0,526.3 L206.4,525.1 L206.9,523.8 L207.4,522.5 L207.8,521.1 L208.3,519.6 L208.8,518.2 L209.2,516.7 L209.7,515.1 L210.2,513.6 L210.6,512.0 L211.1,510.4 L211.6,508.9 L212.0,507.2 L212.5,505.6 L213.0,504.0 L213.5,502.3 L213.9,500.6 L214.4,498.8 L214.9,497.1 L215.3,495.3 L215.8,493.6 L216.3,491.9 L216.7,490.4 L217.2,488.9 L217.7,487.6 L218.1,486.4 L218.6,485.3 L219.1,484.4 L219.6,483.6 L220.0,482.8 L220.5,482.1 L221.0,481.5 L221.4,480.9 L221.9,480.4 L222.4,479.9 L222.8,479.5 L223.3,479.1 L223.8,478.8 L224.2,478.5 L224.7,478.3 L225.2,478.1 L225.6,478.0 L226.1,477.9 L226.6,477.8 L227.1,477.8 L227.5,477.8 L228.0,477.9 L228.5,478.1 L228.9,478.3 L229.4,478.5 L229.9,478.8 L230.3,479.1 L230.8,479.5 L231.3,479.9 L231.7,480.4 L232.2,481.0 L232.7,481.6 L233.1,482.3 L233.6,483.0 L234.1,483.8 L234.6,484.6 L235.0,485.5 L235.5,486.4 L236.0,487.3 L236.4,488.1 L236.9,489.0 L237.4,489.9 L237.8,490.9 L238.3,491.9 L238.8,492.9 L239.2,493.9 L239.7,494.9 L240.2,495.9 L240.6,496.9 L241.1,497.8 L241.6,498.6 L242.1,499.3 L242.5,500.0 L243.0,500.5 L243.5,500.9 L243.9,501.3 L244.4,501.7 L244.9,501.9 L245.3,502.2 L245.8,502.4 L246.3,502.6 L246.7,502.7 L247.2,502.8 L247.7,502.9 L248.2,503.0 L248.6,503.1 L249.1,503.1 L249.6,503.2 L250.0,503.3 L250.5,503.3 L251.0,503.4 L251.4,503.5 L251.9,503.6 L252.4,503.7 L252.8,503.8 L253.3,503.9 L253.8,504.2 L254.2,504.5 L254.7,504.8 L255.2,505.3 L255.7,505.9 L256.1,506.5 L256.6,507.3 L257.1,508.1 L257.5,509.1 L258.0,510.3 L258.5,511.5 L258.9,512.9 L259.4,514.5 L259.9,516.1 L260.3,517.9 L260.8,519.7 L261.3,521.6 L261.7,523.6 L262.2,525.6 L262.7,527.7 L263.2,529.7 L263.6,531.8 L264.1,533.8 L264.6,535.7 L265.0,537.7 L265.5,539.6 L266.0,541.5 L266.4,543.4 L266.9,545.3 L267.4,547.1 L267.8,548.9 L268.3,550.6 L268.8,552.3 L269.2,553.9 L269.7,555.4 L270.2,556.8 L270.7,558.1 L271.1,559.3 L271.6,560.4 L272.1,561.4 L272.5,562.5 L273.0,563.4 L273.5,564.4 L273.9,565.2 L274.4,566.0 L274.9,566.7 L275.3,567.4 L275.8,568.0 L276.3,568.5 L276.8,569.0 L277.2,569.4 L277.7,569.7 L278.2,570.0 L278.6,570.3 L279.1,570.5 L279.6,570.7 L280.0,570.9 L280.5,571.0 L281.0,571.1 L281.4,571.2 L281.9,571.2 L282.4,571.3 L282.8,571.3 L283.3,571.4 L283.8,571.4 L284.3,571.4 L284.7,571.4 L285.2,571.5 L285.7,571.5 L286.1,571.5 L286.6,571.5 L287.1,571.5 L287.5,571.5 L288.0,571.5 L288.5,571.5 L288.9,571.5 L289.4,571.5 L289.9,571.5 L290.3,571.5 L290.8,571.5 L291.3,571.5 L291.8,571.5 L292.2,571.5 L292.7,571.5 L293.2,571.5 L293.6,571.5 L294.1,571.5 L294.6,571.5 L295.0,571.5 L295.5,571.5 L296.0,571.5 L296.4,571.5 L296.9,571.5 L297.4,571.5 L297.9,571.5" fill="none" stroke="#141414" stroke-width="1.6" stroke-linejoin="round" stroke-linecap="round"/>
<path d="M72.8,571.5 L73.3,571.5 L73.7,571.5 L74.2,571.5 L74.7,571.5 L75.1,571.5 L75.6,571.5 L76.1,571.5 L76.6,571.5 L77.0,571.5 L77.5,571.5 L78.0,571.5 L78.4,571.5 L78.9,571.5 L79.4,571.5 L79.8,571.5 L80.3,571.5 L80.8,571.5 L81.2,571.5 L81.7,571.5 L82.2,571.5 L82.6,571.5 L83.1,571.5 L83.6,571.5 L84.1,571.5 L84.5,571.5 L85.0,571.5 L85.5,571.5 L85.9,571.5 L86.4,571.5 L86.9,571.5 L87.3,571.5 L87.8,571.5 L88.3,571.5 L88.7,571.5 L89.2,571.5 L89.7,571.5 L90.1,571.5 L90.6,571.5 L91.1,571.5 L91.6,571.5 L92.0,571.5 L92.5,571.5 L93.0,571.5 L93.4,571.5 L93.9,571.5 L94.4,571.5 L94.8,571.5 L95.3,571.5 L95.8,571.5 L96.2,571.5 L96.7,571.5 L97.2,571.5 L97.6,571.5 L98.1,571.5 L98.6,571.5 L99.1,571.5 L99.5,571.5 L100.0,571.5 L100.5,571.5 L100.9,571.5 L101.4,571.5 L101.9,571.5 L102.3,571.5 L102.8,571.5 L103.3,571.5 L103.7,571.5 L104.2,571.5 L104.7,571.5 L105.2,571.5 L105.6,571.5 L106.1,571.5 L106.6,571.5 L107.0,571.5 L107.5,571.5 L108.0,571.5 L108.4,571.5 L108.9,571.5 L109.4,571.5 L109.8,571.5 L110.3,571.5 L110.8,571.5 L111.2,571.5 L111.7,571.5 L112.2,571.5 L112.7,571.5 L113.1,571.5 L113.6,571.5 L114.1,571.5 L114.5,571.5 L115.0,571.4 L115.5,571.4 L115.9,571.3 L116.4,571.3 L116.9,571.2 L117.3,571.1 L117.8,571.0 L118.3,570.8 L118.7,570.6 L119.2,570.4 L119.7,570.1 L120.2,569.7 L120.6,569.3 L121.1,568.7 L121.6,568.0 L122.0,567.2 L122.5,566.2 L123.0,565.1 L123.4,563.8 L123.9,562.3 L124.4,560.5 L124.8,558.5 L125.3,556.0 L125.8,553.0 L126.2,549.4 L126.7,545.4 L127.2,541.2 L127.7,536.9 L128.1,532.4 L128.6,527.7 L129.1,522.7 L129.5,517.3 L130.0,511.5 L130.5,505.6 L130.9,499.6 L131.4,493.7 L131.9,488.0 L132.3,482.6 L132.8,477.4 L133.3,472.3 L133.8,467.5 L134.2,462.9 L134.7,458.4 L135.2,454.0 L135.6,449.5 L136.1,445.1 L136.6,440.9 L137.0,436.8 L137.5,432.9 L138.0,429.1 L138.4,425.4 L138.9,421.5 L139.4,417.6 L139.8,413.7 L140.3,410.0 L140.8,406.6 L141.3,403.4 L141.7,400.7 L142.2,398.3 L142.7,396.2 L143.1,394.5 L143.6,393.3 L144.1,392.4 L144.5,392.0 L145.0,392.1 L145.5,392.6 L145.9,393.5 L146.4,394.8 L146.9,396.4 L147.3,398.5 L147.8,401.0 L148.3,404.1 L148.8,407.5 L149.2,411.3 L149.7,415.3 L150.2,419.4 L150.6,423.5 L151.1,427.8 L151.6,432.0 L152.0,436.2 L152.5,440.3 L153.0,444.2 L153.4,448.0 L153.9,451.5 L154.4,454.8 L154.8,457.9 L155.3,461.1 L155.8,464.4 L156.3,467.7 L156.7,470.7 L157.2,473.3 L157.7,475.5 L158.1,477.4 L158.6,479.1 L159.1,480.7 L159.5,482.1 L160.0,483.6 L160.5,485.0 L160.9,486.4 L161.4,487.8 L161.9,489.2 L162.4,490.5 L162.8,491.7 L163.3,492.9 L163.8,493.9 L164.2,494.8 L164.7,495.7 L165.2,496.5 L165.6,497.4 L166.1,498.2 L166.6,498.9 L167.0,499.7 L167.5,500.5 L168.0,501.2 L168.4,501.9 L168.9,502.6 L169.4,503.2 L169.9,503.8 L170.3,504.4 L170.8,505.0 L171.3,505.5 L171.7,506.0 L172.2,506.6 L172.7,507.2 L173.1,507.9 L173.6,508.7 L174.1,509.6 L174.5,510.6 L175.0,511.8 L175.5,513.3 L175.9,514.9 L176.4,516.7 L176.9,518.7 L177.4,520.8 L177.8,523.0 L178.3,525.3 L178.8,527.5 L179.2,529.6 L179.7,531.5 L180.2,533.2 L180.6,534.7 L181.1,536.1 L181.6,537.3 L182.0,538.4 L182.5,539.3 L183.0,540.1 L183.4,540.7 L183.9,541.2 L184.4,541.7 L184.9,542.1 L185.3,542.5 L185.8,542.9 L186.3,543.3 L186.7,543.7 L187.2,544.1 L187.7,544.5 L188.1,544.9 L188.6,545.4 L189.1,545.9 L189.5,546.6 L190.0,547.3 L190.5,548.1 L191.0,548.9 L191.4,549.7 L191.9,550.5 L192.4,551.3 L192.8,552.1 L193.3,552.8 L193.8,553.6 L194.2,554.3 L194.7,555.0 L195.2,555.6 L195.6,556.2 L196.1,556.8 L196.6,557.3 L197.0,557.7 L197.5,558.1 L198.0,558.4 L198.5,558.7 L198.9,558.8 L199.4,558.8 L199.9,558.6 L200.3,558.3 L200.8,557.9 L201.3,557.4 L201.7,556.8 L202.2,556.2 L202.7,555.4 L203.1,554.5 L203.6,553.5 L204.1,552.4 L204.5,551.3 L205.0,550.0 L205.5,548.6 L206.0,547.2 L206.4,545.6 L206.9,543.9 L207.4,542.2 L207.8,540.4 L208.3,538.5 L208.8,536.7 L209.2,534.8 L209.7,532.9 L210.2,531.0 L210.6,529.1 L211.1,527.1 L211.6,525.0 L212.0,523.0 L212.5,520.9 L213.0,518.8 L213.5,516.7 L213.9,514.6 L214.4,512.5 L214.9,510.5 L215.3,508.5 L215.8,506.4 L216.3,504.4 L216.7,502.4 L217.2,500.4 L217.7,498.4 L218.1,496.4 L218.6,494.4 L219.1,492.5 L219.6,490.6 L220.0,488.8 L220.5,487.0 L221.0,485.3 L221.4,483.8 L221.9,482.3 L222.4,480.9 L222.8,479.6 L223.3,478.3 L223.8,477.1 L224.2,475.9 L224.7,474.6 L225.2,473.3 L225.6,472.0 L226.1,470.8 L226.6,469.6 L227.1,468.5 L227.5,467.6 L228.0,466.8 L228.5,466.1 L228.9,465.4 L229.4,464.9 L229.9,464.5 L230.3,464.2 L230.8,464.0 L231.3,464.0 L231.7,464.2 L232.2,464.6 L232.7,465.1 L233.1,465.8 L233.6,466.5 L234.1,467.4 L234.6,468.3 L235.0,469.4 L235.5,470.5 L236.0,471.5 L236.4,472.6 L236.9,473.7 L237.4,474.8 L237.8,476.0 L238.3,477.3 L238.8,478.7 L239.2,480.2 L239.7,481.7 L240.2,483.2 L240.6,484.7 L241.1,486.1 L241.6,487.5 L242.1,489.0 L242.5,490.5 L243.0,492.0 L243.5,493.7 L243.9,495.5 L244.4,497.5 L244.9,499.6 L245.3,501.9 L245.8,504.3 L246.3,506.8 L246.7,509.3 L247.2,511.9 L247.7,514.5 L248.2,517.1 L248.6,519.9 L249.1,522.7 L249.6,525.5 L250.0,528.4 L250.5,531.2 L251.0,533.9 L251.4,536.6 L251.9,539.2 L252.4,541.8 L252.8,544.3 L253.3,546.7 L253.8,549.0 L254.2,551.2 L254.7,553.3 L255.2,555.4 L255.7,557.3 L256.1,559.1 L256.6,560.8 L257.1,562.3 L257.5,563.7 L258.0,564.9 L258.5,566.0 L258.9,567.0 L259.4,567.9 L259.9,568.6 L260.3,569.2 L260.8,569.6 L261.3,570.0 L261.7,570.3 L262.2,570.5 L262.7,570.7 L263.2,570.9 L263.6,571.1 L264.1,571.2 L264.6,571.3 L265.0,571.4 L265.5,571.4 L266.0,571.5 L266.4,571.5 L266.9,571.5 L267.4,571.5 L267.8,571.5 L268.3,571.5 L268.8,571.5 L269.2,571.5 L269.7,571.5 L270.2,571.5 L270.7,571.5 L271.1,571.5 L271.6,571.5 L272.1,571.5 L272.5,571.5 L273.0,571.5 L273.5,571.5 L273.9,571.5 L274.4,571.5 L274.9,571.5 L275.3,571.5 L275.8,571.5 L276.3,571.5 L276.8,571.5 L277.2,571.5 L277.7,571.5 L278.2,571.5 L278.6,571.5 L279.1,571.5 L279.6,571.5 L280.0,571.5 L280.5,571.5 L281.0,571.5 L281.4,571.5 L281.9,571.5 L282.4,571.5 L282.8,571.5 L283.3,571.5 L283.8,571.5 L284.3,571.5 L284.7,571.5 L285.2,571.5 L285.7,571.5 L286.1,571.5 L286.6,571.5 L287.1,571.5 L287.5,571.5 L288.0,571.5 L288.5,571.5 L288.9,571.5 L289.4,571.5 L289.9,571.5 L290.3,571.5 L290.8,571.5 L291.3,571.5 L291.8,571.5 L292.2,571.5 L292.7,571.5 L293.2,571.5 L293.6,571.5 L294.1,571.5 L294.6,571.5 L295.0,571.5 L295.5,571.5 L296.0,571.5 L296.4,571.5 L296.9,571.5 L297.4,571.5 L297.9,571.5" fill="none" stroke="#3b4699" stroke-width="1.55" stroke-dasharray="6 4" stroke-linejoin="round" stroke-linecap="butt"/>
<rect x="63.80" y="384.95" width="243.05" height="193.70" fill="none" stroke="#222222" stroke-width="1.45"/>
<line x1="72.80" y1="578.65" x2="72.80" y2="587.85" stroke="#222222" stroke-width="1.45"/>
<text transform="translate(72.80,608.20) scale(1,1.07)" text-anchor="middle" class="t">0:00</text>
<line x1="129.06" y1="578.65" x2="129.06" y2="587.85" stroke="#222222" stroke-width="1.45"/>
<text transform="translate(129.06,608.20) scale(1,1.07)" text-anchor="middle" class="t">6:00</text>
<line x1="185.32" y1="578.65" x2="185.32" y2="587.85" stroke="#222222" stroke-width="1.45"/>
<text transform="translate(185.32,608.20) scale(1,1.07)" text-anchor="middle" class="t">12:00</text>
<line x1="241.59" y1="578.65" x2="241.59" y2="587.85" stroke="#222222" stroke-width="1.45"/>
<text transform="translate(241.59,608.20) scale(1,1.07)" text-anchor="middle" class="t">18:00</text>
<line x1="297.85" y1="578.65" x2="297.85" y2="587.85" stroke="#222222" stroke-width="1.45"/>
<text transform="translate(297.85,608.20) scale(1,1.07)" text-anchor="middle" class="t">24:00</text>
<line x1="54.60" y1="571.50" x2="63.80" y2="571.50" stroke="#222222" stroke-width="1.45"/>
<line x1="54.60" y1="520.25" x2="63.80" y2="520.25" stroke="#222222" stroke-width="1.45"/>
<line x1="54.60" y1="469.00" x2="63.80" y2="469.00" stroke="#222222" stroke-width="1.45"/>
<line x1="54.60" y1="417.75" x2="63.80" y2="417.75" stroke="#222222" stroke-width="1.45"/>
<text transform="translate(44.20,571.50) rotate(-90) scale(1,1.07)" text-anchor="middle" class="t">0.00</text>
<text transform="translate(44.20,520.25) rotate(-90) scale(1,1.07)" text-anchor="middle" class="t">0.05</text>
<text transform="translate(44.20,469.00) rotate(-90) scale(1,1.07)" text-anchor="middle" class="t">0.10</text>
<text transform="translate(44.20,417.75) rotate(-90) scale(1,1.07)" text-anchor="middle" class="t">0.15</text>
<text transform="translate(185.30,640.30) scale(1,1.07)" text-anchor="middle" class="t" style="font-size:13.8px">Time</text>
<text transform="translate(10.90,481.80) rotate(-90) scale(1,1.07)" text-anchor="middle" class="t" style="font-size:13.7px">Density</text>
<text x="185.30" y="357.30" text-anchor="middle" class="h">(c) Radiotags and active camera traps</text>
<rect x="140.50" y="384.95" width="89.45" height="32.35" fill="none" stroke="#222222" stroke-width="1.45"/>
<text transform="translate(165.60,406.30) scale(1,1.07)" class="t" style="font-size:13.7px">Δ = 0.781</text></g>
<g><path d="M417.0,571.5 L417.5,571.5 L417.9,571.5 L418.4,571.5 L418.9,571.5 L419.3,571.5 L419.8,571.5 L420.3,571.5 L420.8,571.5 L421.2,571.5 L421.7,571.5 L422.2,571.5 L422.6,571.5 L423.1,571.5 L423.6,571.5 L424.0,571.5 L424.5,571.5 L425.0,571.5 L425.4,571.5 L425.9,571.5 L426.4,571.5 L426.8,571.5 L427.3,571.5 L427.8,571.5 L428.3,571.5 L428.7,571.5 L429.2,571.5 L429.7,571.5 L430.1,571.5 L430.6,571.5 L431.1,571.5 L431.5,571.5 L432.0,571.5 L432.5,571.5 L432.9,571.5 L433.4,571.5 L433.9,571.5 L434.3,571.5 L434.8,571.5 L435.3,571.5 L435.8,571.5 L436.2,571.5 L436.7,571.5 L437.2,571.5 L437.6,571.5 L438.1,571.5 L438.6,571.5 L439.0,571.5 L439.5,571.5 L440.0,571.5 L440.4,571.5 L440.9,571.5 L441.4,571.5 L441.8,571.5 L442.3,571.5 L442.8,571.5 L443.3,571.5 L443.7,571.5 L444.2,571.5 L444.7,571.5 L445.1,571.5 L445.6,571.5 L446.1,571.5 L446.5,571.5 L447.0,571.5 L447.5,571.5 L447.9,571.5 L448.4,571.5 L448.9,571.5 L449.4,571.5 L449.8,571.5 L450.3,571.5 L450.8,571.5 L451.2,571.5 L451.7,571.5 L452.2,571.5 L452.6,571.5 L453.1,571.5 L453.6,571.5 L454.0,571.5 L454.5,571.4 L455.0,571.4 L455.4,571.4 L455.9,571.3 L456.4,571.2 L456.9,571.2 L457.3,571.1 L457.8,571.0 L458.3,570.9 L458.7,570.7 L459.2,570.5 L459.7,570.3 L460.1,570.0 L460.6,569.6 L461.1,569.2 L461.5,568.6 L462.0,568.0 L462.5,567.2 L462.9,566.3 L463.4,565.4 L463.9,565.0 L464.4,564.9 L464.8,564.7 L465.3,564.3 L465.8,563.9 L466.2,563.4 L466.7,562.8 L467.2,562.2 L467.6,561.6 L468.1,560.9 L468.6,560.2 L469.0,559.4 L469.5,558.4 L470.0,557.3 L470.4,556.1 L470.9,554.5 L471.4,552.7 L471.9,550.7 L472.3,548.5 L472.8,546.2 L473.3,543.7 L473.7,541.1 L474.2,538.2 L474.7,535.0 L475.1,531.6 L475.6,528.0 L476.1,524.3 L476.5,520.6 L477.0,517.2 L477.5,513.9 L478.0,510.6 L478.4,507.0 L478.9,502.8 L479.4,498.1 L479.8,493.1 L480.3,488.5 L480.8,486.3 L481.2,484.0 L481.7,481.9 L482.2,479.7 L482.6,477.7 L483.1,475.6 L483.6,473.6 L484.0,471.7 L484.5,469.7 L485.0,467.9 L485.5,466.1 L485.9,464.3 L486.4,462.7 L486.9,461.0 L487.3,459.4 L487.8,457.8 L488.3,456.3 L488.7,454.7 L489.2,453.1 L489.7,451.5 L490.1,450.0 L490.6,448.4 L491.1,446.9 L491.5,445.4 L492.0,444.0 L492.5,442.7 L493.0,441.5 L493.4,440.5 L493.9,439.6 L494.4,438.8 L494.8,438.2 L495.3,437.7 L495.8,437.3 L496.2,437.0 L496.7,436.9 L497.2,436.8 L497.6,436.9 L498.1,437.2 L498.6,437.4 L499.0,437.8 L499.5,438.2 L500.0,438.7 L500.5,439.2 L500.9,439.8 L501.4,440.6 L501.9,441.4 L502.3,442.3 L502.8,443.4 L503.3,444.5 L503.7,445.7 L504.2,447.0 L504.7,448.3 L505.1,449.6 L505.6,450.9 L506.1,452.2 L506.6,453.4 L507.0,454.6 L507.5,455.9 L508.0,457.1 L508.4,458.3 L508.9,459.5 L509.4,460.7 L509.8,461.9 L510.3,463.1 L510.8,464.3 L511.2,465.6 L511.7,466.8 L512.2,467.9 L512.6,469.0 L513.1,470.1 L513.6,471.0 L514.1,471.9 L514.5,474.3 L515.0,476.6 L515.5,478.9 L515.9,481.0 L516.4,483.1 L516.9,485.1 L517.3,487.0 L517.8,488.9 L518.3,490.6 L518.7,492.1 L519.2,493.5 L519.7,494.7 L520.1,495.8 L520.6,496.8 L521.1,497.7 L521.6,498.4 L522.0,499.1 L522.5,499.7 L523.0,500.2 L523.4,500.7 L523.9,501.0 L524.4,501.2 L524.8,501.3 L525.3,501.2 L525.8,501.0 L526.2,500.7 L526.7,500.3 L527.2,499.8 L527.6,499.4 L528.1,498.9 L528.6,498.4 L529.1,497.9 L529.5,497.4 L530.0,496.9 L530.5,496.4 L530.9,496.0 L531.4,495.6 L531.9,495.2 L532.3,494.9 L532.8,494.6 L533.3,494.4 L533.7,494.3 L534.2,494.3 L534.7,494.4 L535.2,494.5 L535.6,494.8 L536.1,495.2 L536.6,495.7 L537.0,496.1 L537.5,496.7 L538.0,497.3 L538.4,498.0 L538.9,498.7 L539.4,499.4 L539.8,500.1 L540.3,500.8 L540.8,501.4 L541.2,502.0 L541.7,502.5 L542.2,503.0 L542.7,503.4 L543.1,503.8 L543.6,504.0 L544.1,504.2 L544.5,504.4 L545.0,504.4 L545.5,504.3 L545.9,504.0 L546.4,503.6 L546.9,503.0 L547.3,502.3 L547.8,501.4 L548.3,500.4 L548.7,499.4 L549.2,498.3 L549.7,497.3 L550.2,496.3 L550.6,495.0 L551.1,493.6 L551.6,492.0 L552.0,490.1 L552.5,488.0 L553.0,487.8 L553.4,488.1 L553.9,488.4 L554.4,488.5 L554.8,488.6 L555.3,488.5 L555.8,488.4 L556.2,488.2 L556.7,487.8 L557.2,487.5 L557.7,487.1 L558.1,486.6 L558.6,486.1 L559.1,485.6 L559.5,485.0 L560.0,484.5 L560.5,484.0 L560.9,483.5 L561.4,483.1 L561.9,482.6 L562.3,482.2 L562.8,481.8 L563.3,481.4 L563.8,481.1 L564.2,480.8 L564.7,480.5 L565.2,480.3 L565.6,480.1 L566.1,479.9 L566.6,479.8 L567.0,479.6 L567.5,479.6 L568.0,479.5 L568.4,479.5 L568.9,479.6 L569.4,479.7 L569.8,479.8 L570.3,480.0 L570.8,480.3 L571.3,480.5 L571.7,480.8 L572.2,481.2 L572.7,481.6 L573.1,482.0 L573.6,482.4 L574.1,482.8 L574.5,483.3 L575.0,483.7 L575.5,484.3 L575.9,484.9 L576.4,485.6 L576.9,486.3 L577.3,487.1 L577.8,487.9 L578.3,488.7 L578.8,489.5 L579.2,490.4 L579.7,492.7 L580.2,496.3 L580.6,499.9 L581.1,503.5 L581.6,507.0 L582.0,510.4 L582.5,513.6 L583.0,516.8 L583.4,519.8 L583.9,522.8 L584.4,525.7 L584.8,528.5 L585.3,531.3 L585.8,533.9 L586.3,536.4 L586.7,538.9 L587.2,541.2 L587.7,543.5 L588.1,545.7 L588.6,547.8 L589.1,549.8 L589.5,551.7 L590.0,553.4 L590.5,555.0 L590.9,556.5 L591.4,557.9 L591.9,559.3 L592.4,560.5 L592.8,561.7 L593.3,562.8 L593.8,563.7 L594.2,564.6 L594.7,565.4 L595.2,566.1 L595.6,566.8 L596.1,567.4 L596.6,567.9 L597.0,568.4 L597.5,568.9 L598.0,569.3 L598.4,569.7 L598.9,570.0 L599.4,570.3 L599.9,570.5 L600.3,570.7 L600.8,570.8 L601.3,570.9 L601.7,571.0 L602.2,571.1 L602.7,571.1 L603.1,571.2 L603.6,571.3 L604.1,571.3 L604.5,571.3 L605.0,571.4 L605.5,571.4 L605.9,571.4 L606.4,571.4 L606.9,571.4 L607.4,571.4 L607.8,571.5 L608.3,571.5 L608.8,571.5 L609.2,571.5 L609.7,571.5 L610.2,571.5 L610.6,571.5 L611.1,571.4 L611.6,571.4 L612.0,571.3 L612.5,571.2 L613.0,571.1 L613.4,570.9 L613.9,570.8 L614.4,570.6 L614.9,570.7 L615.3,570.9 L615.8,571.0 L616.3,571.1 L616.7,571.2 L617.2,571.2 L617.7,571.3 L618.1,571.3 L618.6,571.4 L619.1,571.4 L619.5,571.4 L620.0,571.5 L620.5,571.5 L621.0,571.5 L621.4,571.5 L621.9,571.5 L622.4,571.5 L622.8,571.5 L623.3,571.5 L623.8,571.5 L624.2,571.5 L624.7,571.5 L625.2,571.5 L625.6,571.5 L626.1,571.5 L626.6,571.5 L627.0,571.5 L627.5,571.5 L628.0,571.5 L628.5,571.5 L628.9,571.5 L629.4,571.5 L629.9,571.5 L630.3,571.5 L630.8,571.5 L631.3,571.5 L631.7,571.5 L632.2,571.5 L632.7,571.5 L633.1,571.5 L633.6,571.5 L634.1,571.5 L634.5,571.5 L635.0,571.5 L635.5,571.5 L636.0,571.5 L636.4,571.5 L636.9,571.5 L637.4,571.5 L637.8,571.5 L638.3,571.5 L638.8,571.5 L639.2,571.5 L639.7,571.5 L640.2,571.5 L640.6,571.5 L641.1,571.5 L641.6,571.5 L642.0,571.5 L642.05,571.50 L417.00,571.50 Z" fill="#d3d3d3" stroke="none"/>
<line x1="417.00" y1="571.50" x2="642.05" y2="571.50" stroke="#707070" stroke-width="0.6"/>
<path d="M417.0,571.5 L417.5,571.5 L417.9,571.5 L418.4,571.5 L418.9,571.5 L419.3,571.5 L419.8,571.5 L420.3,571.5 L420.8,571.5 L421.2,571.5 L421.7,571.5 L422.2,571.5 L422.6,571.5 L423.1,571.5 L423.6,571.5 L424.0,571.5 L424.5,571.5 L425.0,571.5 L425.4,571.5 L425.9,571.5 L426.4,571.5 L426.8,571.5 L427.3,571.5 L427.8,571.5 L428.3,571.5 L428.7,571.5 L429.2,571.5 L429.7,571.5 L430.1,571.5 L430.6,571.5 L431.1,571.5 L431.5,571.5 L432.0,571.5 L432.5,571.5 L432.9,571.5 L433.4,571.5 L433.9,571.5 L434.3,571.5 L434.8,571.5 L435.3,571.5 L435.8,571.5 L436.2,571.5 L436.7,571.5 L437.2,571.5 L437.6,571.5 L438.1,571.5 L438.6,571.5 L439.0,571.5 L439.5,571.5 L440.0,571.5 L440.4,571.5 L440.9,571.5 L441.4,571.5 L441.8,571.5 L442.3,571.5 L442.8,571.5 L443.3,571.5 L443.7,571.5 L444.2,571.5 L444.7,571.5 L445.1,571.5 L445.6,571.5 L446.1,571.5 L446.5,571.5 L447.0,571.5 L447.5,571.5 L447.9,571.5 L448.4,571.5 L448.9,571.5 L449.4,571.5 L449.8,571.5 L450.3,571.5 L450.8,571.5 L451.2,571.5 L451.7,571.5 L452.2,571.5 L452.6,571.5 L453.1,571.5 L453.6,571.5 L454.0,571.5 L454.5,571.4 L455.0,571.4 L455.4,571.4 L455.9,571.3 L456.4,571.2 L456.9,571.2 L457.3,571.1 L457.8,571.0 L458.3,570.9 L458.7,570.7 L459.2,570.5 L459.7,570.3 L460.1,570.0 L460.6,569.6 L461.1,569.2 L461.5,568.6 L462.0,568.0 L462.5,567.2 L462.9,566.3 L463.4,565.4 L463.9,564.3 L464.4,563.0 L464.8,561.7 L465.3,560.1 L465.8,558.5 L466.2,556.7 L466.7,554.8 L467.2,552.8 L467.6,550.8 L468.1,548.7 L468.6,546.5 L469.0,544.2 L469.5,541.9 L470.0,539.5 L470.4,537.0 L470.9,534.6 L471.4,532.1 L471.9,529.6 L472.3,527.1 L472.8,524.6 L473.3,522.1 L473.7,519.6 L474.2,517.1 L474.7,514.7 L475.1,512.4 L475.6,510.1 L476.1,507.9 L476.5,505.7 L477.0,503.6 L477.5,501.5 L478.0,499.4 L478.4,497.3 L478.9,495.2 L479.4,493.1 L479.8,490.8 L480.3,488.5 L480.8,486.3 L481.2,484.0 L481.7,481.9 L482.2,479.7 L482.6,477.7 L483.1,475.6 L483.6,473.6 L484.0,471.7 L484.5,469.7 L485.0,467.9 L485.5,466.1 L485.9,464.3 L486.4,462.7 L486.9,461.0 L487.3,459.4 L487.8,457.8 L488.3,456.3 L488.7,454.7 L489.2,453.1 L489.7,451.5 L490.1,450.0 L490.6,448.4 L491.1,446.9 L491.5,445.4 L492.0,444.0 L492.5,442.7 L493.0,441.5 L493.4,440.5 L493.9,439.6 L494.4,438.8 L494.8,438.2 L495.3,437.7 L495.8,437.3 L496.2,437.0 L496.7,436.9 L497.2,436.8 L497.6,436.9 L498.1,437.2 L498.6,437.4 L499.0,437.8 L499.5,438.2 L500.0,438.7 L500.5,439.2 L500.9,439.8 L501.4,440.6 L501.9,441.4 L502.3,442.3 L502.8,443.4 L503.3,444.5 L503.7,445.7 L504.2,447.0 L504.7,448.3 L505.1,449.6 L505.6,450.9 L506.1,452.2 L506.6,453.4 L507.0,454.6 L507.5,455.9 L508.0,457.1 L508.4,458.3 L508.9,459.5 L509.4,460.7 L509.8,461.9 L510.3,463.1 L510.8,464.3 L511.2,465.6 L511.7,466.8 L512.2,467.9 L512.6,469.0 L513.1,470.1 L513.6,471.0 L514.1,471.9 L514.5,472.7 L515.0,473.4 L515.5,474.0 L515.9,474.6 L516.4,475.1 L516.9,475.6 L517.3,475.9 L517.8,476.2 L518.3,476.4 L518.7,476.5 L519.2,476.6 L519.7,476.5 L520.1,476.4 L520.6,476.3 L521.1,476.0 L521.6,475.7 L522.0,475.4 L522.5,474.9 L523.0,474.5 L523.4,474.0 L523.9,473.6 L524.4,473.1 L524.8,472.6 L525.3,472.1 L525.8,471.7 L526.2,471.2 L526.7,470.8 L527.2,470.4 L527.6,470.0 L528.1,469.6 L528.6,469.3 L529.1,468.9 L529.5,468.6 L530.0,468.3 L530.5,468.0 L530.9,467.8 L531.4,467.5 L531.9,467.3 L532.3,467.1 L532.8,466.9 L533.3,466.7 L533.7,466.5 L534.2,466.4 L534.7,466.3 L535.2,466.2 L535.6,466.1 L536.1,466.1 L536.6,466.1 L537.0,466.1 L537.5,466.2 L538.0,466.4 L538.4,466.6 L538.9,466.8 L539.4,467.1 L539.8,467.4 L540.3,467.8 L540.8,468.2 L541.2,468.6 L541.7,469.1 L542.2,469.7 L542.7,470.3 L543.1,471.0 L543.6,471.7 L544.1,472.5 L544.5,473.4 L545.0,474.3 L545.5,475.2 L545.9,476.1 L546.4,477.1 L546.9,478.1 L547.3,479.1 L547.8,480.0 L548.3,480.9 L548.7,481.7 L549.2,482.5 L549.7,483.3 L550.2,484.1 L550.6,484.8 L551.1,485.6 L551.6,486.2 L552.0,486.9 L552.5,487.4 L553.0,487.8 L553.4,488.1 L553.9,488.4 L554.4,488.5 L554.8,488.6 L555.3,488.5 L555.8,488.4 L556.2,488.2 L556.7,487.8 L557.2,487.5 L557.7,487.1 L558.1,486.6 L558.6,486.1 L559.1,485.6 L559.5,485.0 L560.0,484.5 L560.5,484.0 L560.9,483.5 L561.4,483.1 L561.9,482.6 L562.3,482.2 L562.8,481.8 L563.3,481.4 L563.8,481.1 L564.2,480.8 L564.7,480.5 L565.2,480.3 L565.6,480.1 L566.1,479.9 L566.6,479.8 L567.0,479.6 L567.5,479.6 L568.0,479.5 L568.4,479.5 L568.9,479.6 L569.4,479.7 L569.8,479.8 L570.3,480.0 L570.8,480.3 L571.3,480.5 L571.7,480.8 L572.2,481.2 L572.7,481.6 L573.1,482.0 L573.6,482.4 L574.1,482.8 L574.5,483.3 L575.0,483.7 L575.5,484.3 L575.9,484.9 L576.4,485.6 L576.9,486.3 L577.3,487.1 L577.8,487.9 L578.3,488.7 L578.8,489.5 L579.2,490.4 L579.7,491.3 L580.2,492.2 L580.6,493.1 L581.1,494.1 L581.6,495.1 L582.0,496.1 L582.5,497.1 L583.0,498.2 L583.4,499.2 L583.9,500.3 L584.4,501.3 L584.8,502.4 L585.3,503.4 L585.8,504.5 L586.3,505.6 L586.7,506.7 L587.2,507.8 L587.7,508.9 L588.1,510.0 L588.6,511.1 L589.1,512.2 L589.5,513.2 L590.0,514.2 L590.5,515.2 L590.9,516.1 L591.4,517.0 L591.9,517.8 L592.4,518.7 L592.8,519.6 L593.3,520.4 L593.8,521.3 L594.2,522.1 L594.7,522.9 L595.2,523.8 L595.6,524.6 L596.1,525.5 L596.6,526.4 L597.0,527.4 L597.5,528.4 L598.0,529.4 L598.4,530.6 L598.9,531.7 L599.4,533.0 L599.9,534.2 L600.3,535.6 L600.8,536.9 L601.3,538.3 L601.7,539.6 L602.2,540.9 L602.7,542.2 L603.1,543.6 L603.6,544.9 L604.1,546.3 L604.5,547.7 L605.0,549.1 L605.5,550.6 L605.9,552.1 L606.4,553.7 L606.9,555.4 L607.4,557.1 L607.8,558.8 L608.3,560.4 L608.8,561.9 L609.2,563.2 L609.7,564.4 L610.2,565.4 L610.6,566.4 L611.1,567.2 L611.6,567.9 L612.0,568.6 L612.5,569.1 L613.0,569.6 L613.4,570.0 L613.9,570.3 L614.4,570.6 L614.9,570.7 L615.3,570.9 L615.8,571.0 L616.3,571.1 L616.7,571.2 L617.2,571.2 L617.7,571.3 L618.1,571.3 L618.6,571.4 L619.1,571.4 L619.5,571.4 L620.0,571.5 L620.5,571.5 L621.0,571.5 L621.4,571.5 L621.9,571.5 L622.4,571.5 L622.8,571.5 L623.3,571.5 L623.8,571.5 L624.2,571.5 L624.7,571.5 L625.2,571.5 L625.6,571.5 L626.1,571.5 L626.6,571.5 L627.0,571.5 L627.5,571.5 L628.0,571.5 L628.5,571.5 L628.9,571.5 L629.4,571.5 L629.9,571.5 L630.3,571.5 L630.8,571.5 L631.3,571.5 L631.7,571.5 L632.2,571.5 L632.7,571.5 L633.1,571.5 L633.6,571.5 L634.1,571.5 L634.5,571.5 L635.0,571.5 L635.5,571.5 L636.0,571.5 L636.4,571.5 L636.9,571.5 L637.4,571.5 L637.8,571.5 L638.3,571.5 L638.8,571.5 L639.2,571.5 L639.7,571.5 L640.2,571.5 L640.6,571.5 L641.1,571.5 L641.6,571.5 L642.0,571.5" fill="none" stroke="#141414" stroke-width="1.6" stroke-linejoin="round" stroke-linecap="round"/>
<path d="M417.0,571.5 L417.5,571.5 L417.9,571.5 L418.4,571.5 L418.9,571.5 L419.3,571.4 L419.8,571.4 L420.3,571.4 L420.8,571.3 L421.2,571.3 L421.7,571.3 L422.2,571.2 L422.6,571.2 L423.1,571.2 L423.6,571.1 L424.0,571.0 L424.5,571.0 L425.0,570.9 L425.4,570.8 L425.9,570.7 L426.4,570.6 L426.8,570.5 L427.3,570.4 L427.8,570.3 L428.3,570.2 L428.7,570.1 L429.2,569.9 L429.7,569.8 L430.1,569.6 L430.6,569.4 L431.1,569.2 L431.5,569.0 L432.0,568.8 L432.5,568.5 L432.9,568.3 L433.4,568.0 L433.9,567.8 L434.3,567.5 L434.8,567.2 L435.3,567.0 L435.8,566.7 L436.2,566.4 L436.7,566.1 L437.2,565.9 L437.6,565.7 L438.1,565.5 L438.6,565.3 L439.0,565.1 L439.5,565.0 L440.0,564.9 L440.4,564.8 L440.9,564.7 L441.4,564.6 L441.8,564.5 L442.3,564.5 L442.8,564.5 L443.3,564.5 L443.7,564.4 L444.2,564.4 L444.7,564.4 L445.1,564.4 L445.6,564.4 L446.1,564.4 L446.5,564.4 L447.0,564.4 L447.5,564.4 L447.9,564.4 L448.4,564.4 L448.9,564.4 L449.4,564.4 L449.8,564.4 L450.3,564.4 L450.8,564.4 L451.2,564.4 L451.7,564.4 L452.2,564.4 L452.6,564.4 L453.1,564.4 L453.6,564.4 L454.0,564.4 L454.5,564.4 L455.0,564.4 L455.4,564.4 L455.9,564.4 L456.4,564.4 L456.9,564.4 L457.3,564.4 L457.8,564.4 L458.3,564.5 L458.7,564.5 L459.2,564.5 L459.7,564.5 L460.1,564.6 L460.6,564.6 L461.1,564.7 L461.5,564.8 L462.0,564.9 L462.5,564.9 L462.9,565.0 L463.4,565.0 L463.9,565.0 L464.4,564.9 L464.8,564.7 L465.3,564.3 L465.8,563.9 L466.2,563.4 L466.7,562.8 L467.2,562.2 L467.6,561.6 L468.1,560.9 L468.6,560.2 L469.0,559.4 L469.5,558.4 L470.0,557.3 L470.4,556.1 L470.9,554.5 L471.4,552.7 L471.9,550.7 L472.3,548.5 L472.8,546.2 L473.3,543.7 L473.7,541.1 L474.2,538.2 L474.7,535.0 L475.1,531.6 L475.6,528.0 L476.1,524.3 L476.5,520.6 L477.0,517.2 L477.5,513.9 L478.0,510.6 L478.4,507.0 L478.9,502.8 L479.4,498.1 L479.8,493.1 L480.3,487.9 L480.8,482.7 L481.2,477.5 L481.7,472.3 L482.2,467.2 L482.6,462.2 L483.1,457.3 L483.6,452.5 L484.0,447.9 L484.5,443.3 L485.0,438.8 L485.5,434.3 L485.9,429.9 L486.4,425.6 L486.9,421.3 L487.3,417.1 L487.8,413.3 L488.3,409.9 L488.7,406.8 L489.2,404.2 L489.7,401.9 L490.1,399.9 L490.6,398.3 L491.1,396.8 L491.5,395.6 L492.0,394.6 L492.5,393.7 L493.0,393.0 L493.4,392.4 L493.9,392.0 L494.4,391.9 L494.8,391.9 L495.3,392.0 L495.8,392.3 L496.2,392.7 L496.7,393.2 L497.2,393.7 L497.6,394.3 L498.1,394.9 L498.6,395.6 L499.0,396.3 L499.5,397.3 L500.0,398.3 L500.5,399.4 L500.9,400.7 L501.4,402.1 L501.9,403.7 L502.3,405.4 L502.8,407.3 L503.3,409.2 L503.7,411.2 L504.2,413.3 L504.7,415.4 L505.1,417.6 L505.6,419.8 L506.1,422.1 L506.6,424.6 L507.0,427.2 L507.5,430.1 L508.0,433.2 L508.4,436.4 L508.9,439.7 L509.4,442.9 L509.8,446.0 L510.3,449.0 L510.8,452.0 L511.2,455.0 L511.7,458.0 L512.2,461.0 L512.6,463.9 L513.1,466.7 L513.6,469.4 L514.1,471.9 L514.5,474.3 L515.0,476.6 L515.5,478.9 L515.9,481.0 L516.4,483.1 L516.9,485.1 L517.3,487.0 L517.8,488.9 L518.3,490.6 L518.7,492.1 L519.2,493.5 L519.7,494.7 L520.1,495.8 L520.6,496.8 L521.1,497.7 L521.6,498.4 L522.0,499.1 L522.5,499.7 L523.0,500.2 L523.4,500.7 L523.9,501.0 L524.4,501.2 L524.8,501.3 L525.3,501.2 L525.8,501.0 L526.2,500.7 L526.7,500.3 L527.2,499.8 L527.6,499.4 L528.1,498.9 L528.6,498.4 L529.1,497.9 L529.5,497.4 L530.0,496.9 L530.5,496.4 L530.9,496.0 L531.4,495.6 L531.9,495.2 L532.3,494.9 L532.8,494.6 L533.3,494.4 L533.7,494.3 L534.2,494.3 L534.7,494.4 L535.2,494.5 L535.6,494.8 L536.1,495.2 L536.6,495.7 L537.0,496.1 L537.5,496.7 L538.0,497.3 L538.4,498.0 L538.9,498.7 L539.4,499.4 L539.8,500.1 L540.3,500.8 L540.8,501.4 L541.2,502.0 L541.7,502.5 L542.2,503.0 L542.7,503.4 L543.1,503.8 L543.6,504.0 L544.1,504.2 L544.5,504.4 L545.0,504.4 L545.5,504.3 L545.9,504.0 L546.4,503.6 L546.9,503.0 L547.3,502.3 L547.8,501.4 L548.3,500.4 L548.7,499.4 L549.2,498.3 L549.7,497.3 L550.2,496.3 L550.6,495.0 L551.1,493.6 L551.6,492.0 L552.0,490.1 L552.5,488.0 L553.0,485.8 L553.4,483.6 L553.9,481.4 L554.4,479.2 L554.8,477.0 L555.3,475.0 L555.8,473.0 L556.2,471.0 L556.7,469.1 L557.2,467.2 L557.7,465.3 L558.1,463.4 L558.6,461.7 L559.1,460.0 L559.5,458.4 L560.0,456.9 L560.5,455.5 L560.9,454.2 L561.4,453.0 L561.9,451.9 L562.3,450.9 L562.8,450.0 L563.3,449.1 L563.8,448.4 L564.2,447.8 L564.7,447.2 L565.2,446.7 L565.6,446.3 L566.1,446.0 L566.6,445.7 L567.0,445.6 L567.5,445.5 L568.0,445.5 L568.4,445.6 L568.9,445.9 L569.4,446.3 L569.8,446.9 L570.3,447.5 L570.8,448.3 L571.3,449.3 L571.7,450.5 L572.2,451.8 L572.7,453.1 L573.1,454.6 L573.6,456.1 L574.1,457.7 L574.5,459.5 L575.0,461.7 L575.5,464.1 L575.9,466.9 L576.4,469.8 L576.9,472.9 L577.3,476.0 L577.8,479.2 L578.3,482.4 L578.8,485.8 L579.2,489.2 L579.7,492.7 L580.2,496.3 L580.6,499.9 L581.1,503.5 L581.6,507.0 L582.0,510.4 L582.5,513.6 L583.0,516.8 L583.4,519.8 L583.9,522.8 L584.4,525.7 L584.8,528.5 L585.3,531.3 L585.8,533.9 L586.3,536.4 L586.7,538.9 L587.2,541.2 L587.7,543.5 L588.1,545.7 L588.6,547.8 L589.1,549.8 L589.5,551.7 L590.0,553.4 L590.5,555.0 L590.9,556.5 L591.4,557.9 L591.9,559.3 L592.4,560.5 L592.8,561.7 L593.3,562.8 L593.8,563.7 L594.2,564.6 L594.7,565.4 L595.2,566.1 L595.6,566.8 L596.1,567.4 L596.6,567.9 L597.0,568.4 L597.5,568.9 L598.0,569.3 L598.4,569.7 L598.9,570.0 L599.4,570.3 L599.9,570.5 L600.3,570.7 L600.8,570.8 L601.3,570.9 L601.7,571.0 L602.2,571.1 L602.7,571.1 L603.1,571.2 L603.6,571.3 L604.1,571.3 L604.5,571.3 L605.0,571.4 L605.5,571.4 L605.9,571.4 L606.4,571.4 L606.9,571.4 L607.4,571.4 L607.8,571.5 L608.3,571.5 L608.8,571.5 L609.2,571.5 L609.7,571.5 L610.2,571.5 L610.6,571.5 L611.1,571.4 L611.6,571.4 L612.0,571.3 L612.5,571.2 L613.0,571.1 L613.4,570.9 L613.9,570.8 L614.4,570.6 L614.9,570.4 L615.3,570.2 L615.8,570.0 L616.3,569.7 L616.7,569.3 L617.2,568.9 L617.7,568.5 L618.1,568.0 L618.6,567.6 L619.1,567.2 L619.5,566.9 L620.0,566.5 L620.5,566.2 L621.0,565.9 L621.4,565.7 L621.9,565.5 L622.4,565.3 L622.8,565.1 L623.3,565.0 L623.8,564.9 L624.2,564.9 L624.7,564.8 L625.2,564.8 L625.6,564.8 L626.1,564.8 L626.6,564.9 L627.0,565.0 L627.5,565.1 L628.0,565.2 L628.5,565.4 L628.9,565.6 L629.4,565.8 L629.9,566.0 L630.3,566.3 L630.8,566.6 L631.3,566.8 L631.7,567.1 L632.2,567.4 L632.7,567.7 L633.1,567.9 L633.6,568.2 L634.1,568.5 L634.5,568.8 L635.0,569.1 L635.5,569.4 L636.0,569.7 L636.4,569.9 L636.9,570.2 L637.4,570.3 L637.8,570.5 L638.3,570.7 L638.8,570.8 L639.2,571.0 L639.7,571.1 L640.2,571.2 L640.6,571.3 L641.1,571.4 L641.6,571.4 L642.0,571.5" fill="none" stroke="#3b4699" stroke-width="1.55" stroke-dasharray="6 4" stroke-linejoin="round" stroke-linecap="butt"/>
<rect x="408.00" y="384.95" width="243.05" height="193.70" fill="none" stroke="#222222" stroke-width="1.45"/>
<line x1="417.00" y1="578.65" x2="417.00" y2="587.85" stroke="#222222" stroke-width="1.45"/>
<text transform="translate(417.00,608.20) scale(1,1.07)" text-anchor="middle" class="t">0:00</text>
<line x1="473.26" y1="578.65" x2="473.26" y2="587.85" stroke="#222222" stroke-width="1.45"/>
<text transform="translate(473.26,608.20) scale(1,1.07)" text-anchor="middle" class="t">6:00</text>
<line x1="529.52" y1="578.65" x2="529.52" y2="587.85" stroke="#222222" stroke-width="1.45"/>
<text transform="translate(529.52,608.20) scale(1,1.07)" text-anchor="middle" class="t">12:00</text>
<line x1="585.79" y1="578.65" x2="585.79" y2="587.85" stroke="#222222" stroke-width="1.45"/>
<text transform="translate(585.79,608.20) scale(1,1.07)" text-anchor="middle" class="t">18:00</text>
<line x1="642.05" y1="578.65" x2="642.05" y2="587.85" stroke="#222222" stroke-width="1.45"/>
<text transform="translate(642.05,608.20) scale(1,1.07)" text-anchor="middle" class="t">24:00</text>
<line x1="398.80" y1="571.50" x2="408.00" y2="571.50" stroke="#222222" stroke-width="1.45"/>
<line x1="398.80" y1="519.30" x2="408.00" y2="519.30" stroke="#222222" stroke-width="1.45"/>
<line x1="398.80" y1="467.10" x2="408.00" y2="467.10" stroke="#222222" stroke-width="1.45"/>
<line x1="398.80" y1="414.90" x2="408.00" y2="414.90" stroke="#222222" stroke-width="1.45"/>
<line x1="398.80" y1="545.40" x2="408.00" y2="545.40" stroke="#222222" stroke-width="1.45"/>
<line x1="398.80" y1="493.20" x2="408.00" y2="493.20" stroke="#222222" stroke-width="1.45"/>
<line x1="398.80" y1="441.00" x2="408.00" y2="441.00" stroke="#222222" stroke-width="1.45"/>
<line x1="398.80" y1="388.80" x2="408.00" y2="388.80" stroke="#222222" stroke-width="1.45"/>
<text transform="translate(388.40,571.50) rotate(-90) scale(1,1.07)" text-anchor="middle" class="t">0.00</text>
<text transform="translate(388.40,519.30) rotate(-90) scale(1,1.07)" text-anchor="middle" class="t">0.04</text>
<text transform="translate(388.40,467.10) rotate(-90) scale(1,1.07)" text-anchor="middle" class="t">0.08</text>
<text transform="translate(388.40,414.90) rotate(-90) scale(1,1.07)" text-anchor="middle" class="t">0.12</text>
<text transform="translate(529.50,640.30) scale(1,1.07)" text-anchor="middle" class="t" style="font-size:13.8px">Time</text>
<text transform="translate(355.10,481.80) rotate(-90) scale(1,1.07)" text-anchor="middle" class="t" style="font-size:13.7px">Density</text>
<text x="529.50" y="357.30" text-anchor="middle" class="h">(d) Radiotags and passive camera traps</text>
<rect x="484.70" y="384.95" width="89.45" height="32.35" fill="none" stroke="#222222" stroke-width="1.45"/>
<text transform="translate(509.80,406.30) scale(1,1.07)" class="t" style="font-size:13.7px">Δ = 0.826</text></g>
</svg>
</body></html>
